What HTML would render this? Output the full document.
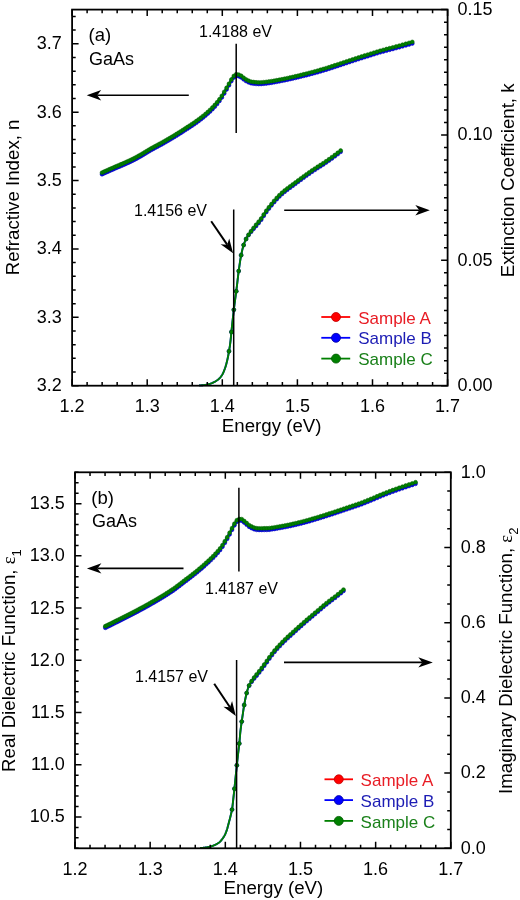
<!DOCTYPE html>
<html><head><meta charset="utf-8"><title>GaAs optical constants</title>
<style>html,body{margin:0;padding:0;background:#fff;width:520px;height:900px;overflow:hidden}svg{display:block}</style>
</head><body>
<svg width="520" height="900" viewBox="0 0 520 900">
<rect width="520" height="900" fill="#fff"/>
<g font-family="Liberation Sans, Arial, sans-serif" font-size="18" fill="#000">
<path d="M102 174.27L103.04 173.79L104.08 173.32L105.11 172.85L106.15 172.38L107.19 171.91L108.23 171.45L109.26 170.98L110.3 170.52L111.34 170.06L112.38 169.61L113.42 169.15L114.45 168.7L115.49 168.25L116.53 167.81L117.57 167.37L118.6 166.94L119.64 166.5L120.68 166.06L121.72 165.62L122.76 165.17L123.79 164.72L124.83 164.25L125.87 163.79L126.91 163.33L127.94 162.86L128.98 162.38L130.02 161.9L131.06 161.41L132.1 160.91L133.13 160.4L134.17 159.87L135.21 159.33L136.25 158.77L137.28 158.2L138.32 157.62L139.36 157.03L140.4 156.44L141.44 155.84L142.47 155.23L143.51 154.61L144.55 153.98L145.59 153.35L146.63 152.72L147.66 152.09L148.7 151.47L149.74 150.85L150.78 150.24L151.81 149.65L152.85 149.07L153.89 148.5L154.93 147.94L155.97 147.38L157 146.83L158.04 146.27L159.08 145.72L160.12 145.16L161.15 144.6L162.19 144.03L163.23 143.45L164.27 142.86L165.31 142.27L166.34 141.68L167.38 141.08L168.42 140.47L169.46 139.87L170.49 139.25L171.53 138.64L172.57 138.02L173.61 137.39L174.65 136.77L175.68 136.13L176.72 135.49L177.76 134.85L178.8 134.2L179.83 133.55L180.87 132.89L181.91 132.23L182.95 131.56L183.99 130.89L185.02 130.22L186.06 129.54L187.1 128.87L188.14 128.19L189.17 127.52L190.21 126.84L191.25 126.16L192.29 125.48L193.33 124.78L194.36 124.07L195.4 123.35L196.44 122.62L197.48 121.86L198.51 121.09L199.55 120.31L200.59 119.52L201.63 118.72L202.67 117.91L203.7 117.08L204.74 116.23L205.78 115.36L206.82 114.46L207.85 113.54L208.89 112.59L209.93 111.61L210.97 110.6L212.01 109.56L213.04 108.49L214.08 107.38L215.12 106.23L216.16 105.04L217.19 103.8L218.23 102.51L219.27 101.17L220.31 99.76L221.35 98.2L222.38 96.5L223.42 94.75L224.46 93.02L225.5 91.28L226.54 89.51L227.57 87.74L228.61 85.96L229.65 84.16L230.69 82.29L231.72 80.51L232.76 78.8L233.8 77.56L234.84 76.56L235.88 75.89L236.91 75.82L237.95 76.01L238.99 76.33L240.03 76.71L241.06 77.35L242.1 78.18L243.14 79L244.18 79.73L245.22 80.47L246.25 81.16L247.29 81.74L248.33 82.22L249.37 82.66L250.4 83.04L251.44 83.32L252.48 83.49L253.52 83.63L254.56 83.76L255.59 83.87L256.63 83.95L257.67 84.01L258.71 84.03L259.74 84.02L260.78 83.98L261.82 83.92L262.86 83.83L263.9 83.73L264.93 83.63L265.97 83.52L267.01 83.41L268.05 83.28L269.08 83.13L270.12 82.97L271.16 82.8L272.2 82.63L273.24 82.46L274.27 82.28L275.31 82.1L276.35 81.91L277.39 81.72L278.42 81.53L279.46 81.33L280.5 81.13L281.54 80.93L282.58 80.72L283.61 80.51L284.65 80.3L285.69 80.09L286.73 79.87L287.76 79.65L288.8 79.42L289.84 79.2L290.88 78.97L291.92 78.73L292.95 78.5L293.99 78.26L295.03 78.02L296.07 77.77L297.11 77.52L298.14 77.26L299.18 77.01L300.22 76.75L301.26 76.49L302.29 76.23L303.33 75.96L304.37 75.7L305.41 75.44L306.45 75.17L307.48 74.91L308.52 74.64L309.56 74.37L310.6 74.1L311.63 73.83L312.67 73.56L313.71 73.28L314.75 73L315.79 72.71L316.82 72.43L317.86 72.14L318.9 71.85L319.94 71.55L320.97 71.25L322.01 70.95L323.05 70.65L324.09 70.34L325.13 70.03L326.16 69.71L327.2 69.4L328.24 69.07L329.28 68.75L330.31 68.41L331.35 68.07L332.39 67.73L333.43 67.38L334.47 67.03L335.5 66.68L336.54 66.33L337.58 65.98L338.62 65.62L339.65 65.27L340.69 64.92L341.73 64.57L342.77 64.23L343.81 63.89L344.84 63.55L345.88 63.21L346.92 62.87L347.96 62.53L348.99 62.19L350.03 61.85L351.07 61.51L352.11 61.18L353.15 60.84L354.18 60.51L355.22 60.17L356.26 59.84L357.3 59.5L358.33 59.17L359.37 58.84L360.41 58.51L361.45 58.18L362.49 57.85L363.52 57.52L364.56 57.18L365.6 56.85L366.64 56.52L367.67 56.19L368.71 55.86L369.75 55.53L370.79 55.2L371.83 54.88L372.86 54.55L373.9 54.23L374.94 53.91L375.98 53.59L377.02 53.28L378.05 52.97L379.09 52.67L380.13 52.37L381.17 52.07L382.2 51.78L383.24 51.5L384.28 51.22L385.32 50.94L386.36 50.66L387.39 50.39L388.43 50.11L389.47 49.84L390.51 49.57L391.54 49.3L392.58 49.03L393.62 48.75L394.66 48.48L395.7 48.2L396.73 47.92L397.77 47.64L398.81 47.35L399.85 47.06L400.88 46.77L401.92 46.48L402.96 46.19L404 45.9L405.04 45.6L406.07 45.31L407.11 45.01L408.15 44.71L409.19 44.42L410.22 44.12L411.26 43.82L412.3 43.52" stroke="#0000ff" stroke-width="1.9" fill="none" stroke-linejoin="round"/>
<g fill="#0000ff" stroke="#0000a0" stroke-width="0.5">
<circle cx="102.02" cy="174.26" r="1.95"/>
<circle cx="103.89" cy="173.41" r="1.95"/>
<circle cx="105.76" cy="172.56" r="1.95"/>
<circle cx="107.64" cy="171.71" r="1.95"/>
<circle cx="109.53" cy="170.87" r="1.95"/>
<circle cx="111.43" cy="170.02" r="1.95"/>
<circle cx="113.33" cy="169.19" r="1.95"/>
<circle cx="115.24" cy="168.36" r="1.95"/>
<circle cx="117.16" cy="167.54" r="1.95"/>
<circle cx="119.09" cy="166.73" r="1.95"/>
<circle cx="121.02" cy="165.92" r="1.95"/>
<circle cx="122.97" cy="165.08" r="1.95"/>
<circle cx="124.92" cy="164.22" r="1.95"/>
<circle cx="126.88" cy="163.34" r="1.95"/>
<circle cx="128.84" cy="162.45" r="1.95"/>
<circle cx="130.82" cy="161.53" r="1.95"/>
<circle cx="132.8" cy="160.57" r="1.95"/>
<circle cx="134.79" cy="159.55" r="1.95"/>
<circle cx="136.79" cy="158.47" r="1.95"/>
<circle cx="138.8" cy="157.35" r="1.95"/>
<circle cx="140.82" cy="156.2" r="1.95"/>
<circle cx="142.84" cy="155.01" r="1.95"/>
<circle cx="144.87" cy="153.78" r="1.95"/>
<circle cx="146.92" cy="152.54" r="1.95"/>
<circle cx="148.97" cy="151.31" r="1.95"/>
<circle cx="151.03" cy="150.1" r="1.95"/>
<circle cx="153.09" cy="148.94" r="1.95"/>
<circle cx="155.17" cy="147.81" r="1.95"/>
<circle cx="157.26" cy="146.69" r="1.95"/>
<circle cx="159.35" cy="145.58" r="1.95"/>
<circle cx="161.45" cy="144.44" r="1.95"/>
<circle cx="163.57" cy="143.26" r="1.95"/>
<circle cx="165.69" cy="142.05" r="1.95"/>
<circle cx="167.82" cy="140.82" r="1.95"/>
<circle cx="169.96" cy="139.57" r="1.95"/>
<circle cx="172.1" cy="138.3" r="1.95"/>
<circle cx="174.26" cy="137" r="1.95"/>
<circle cx="176.43" cy="135.67" r="1.95"/>
<circle cx="178.61" cy="134.32" r="1.95"/>
<circle cx="180.79" cy="132.94" r="1.95"/>
<circle cx="182.99" cy="131.53" r="1.95"/>
<circle cx="185.19" cy="130.11" r="1.95"/>
<circle cx="187.41" cy="128.67" r="1.95"/>
<circle cx="189.63" cy="127.22" r="1.95"/>
<circle cx="191.86" cy="125.76" r="1.95"/>
<circle cx="194.11" cy="124.25" r="1.95"/>
<circle cx="196.36" cy="122.67" r="1.95"/>
<circle cx="198.63" cy="121.01" r="1.95"/>
<circle cx="200.9" cy="119.29" r="1.95"/>
<circle cx="203.18" cy="117.5" r="1.95"/>
<circle cx="205.48" cy="115.61" r="1.95"/>
<circle cx="207.78" cy="113.61" r="1.95"/>
<circle cx="210.1" cy="111.45" r="1.95"/>
<circle cx="212.42" cy="109.14" r="1.95"/>
<circle cx="214.76" cy="106.64" r="1.95"/>
<circle cx="217.1" cy="103.91" r="1.95"/>
<circle cx="219.46" cy="100.92" r="1.95"/>
<circle cx="221.83" cy="97.43" r="1.95"/>
<circle cx="224.2" cy="93.44" r="1.95"/>
<circle cx="226.59" cy="89.42" r="1.95"/>
<circle cx="228.99" cy="85.3" r="1.95"/>
<circle cx="231.4" cy="81.05" r="1.95"/>
<circle cx="233.82" cy="77.54" r="1.95"/>
<circle cx="236.25" cy="75.8" r="1.95"/>
<circle cx="238.7" cy="76.23" r="1.95"/>
<circle cx="241.15" cy="77.42" r="1.95"/>
<circle cx="243.62" cy="79.34" r="1.95"/>
<circle cx="246.1" cy="81.06" r="1.95"/>
<circle cx="248.58" cy="82.33" r="1.95"/>
<circle cx="251.09" cy="83.23" r="1.95"/>
<circle cx="253.6" cy="83.65" r="1.95"/>
<circle cx="256.12" cy="83.92" r="1.95"/>
<circle cx="258.66" cy="84.03" r="1.95"/>
<circle cx="261.2" cy="83.96" r="1.95"/>
<circle cx="263.76" cy="83.75" r="1.95"/>
<circle cx="266.34" cy="83.48" r="1.95"/>
<circle cx="268.92" cy="83.16" r="1.95"/>
<circle cx="271.51" cy="82.74" r="1.95"/>
<circle cx="274.12" cy="82.31" r="1.95"/>
<circle cx="276.74" cy="81.84" r="1.95"/>
<circle cx="279.38" cy="81.35" r="1.95"/>
<circle cx="282.02" cy="80.83" r="1.95"/>
<circle cx="284.68" cy="80.3" r="1.95"/>
<circle cx="287.35" cy="79.74" r="1.95"/>
<circle cx="290.03" cy="79.15" r="1.95"/>
<circle cx="292.73" cy="78.55" r="1.95"/>
<circle cx="295.44" cy="77.92" r="1.95"/>
<circle cx="298.16" cy="77.26" r="1.95"/>
<circle cx="300.9" cy="76.58" r="1.95"/>
<circle cx="303.65" cy="75.88" r="1.95"/>
<circle cx="306.41" cy="75.18" r="1.95"/>
<circle cx="309.19" cy="74.47" r="1.95"/>
<circle cx="311.98" cy="73.74" r="1.95"/>
<circle cx="314.78" cy="72.99" r="1.95"/>
<circle cx="317.6" cy="72.21" r="1.95"/>
<circle cx="320.43" cy="71.41" r="1.95"/>
<circle cx="323.28" cy="70.58" r="1.95"/>
<circle cx="326.14" cy="69.72" r="1.95"/>
<circle cx="329.01" cy="68.83" r="1.95"/>
<circle cx="331.9" cy="67.89" r="1.95"/>
<circle cx="334.8" cy="66.92" r="1.95"/>
<circle cx="337.72" cy="65.93" r="1.95"/>
<circle cx="340.65" cy="64.94" r="1.95"/>
<circle cx="343.6" cy="63.96" r="1.95"/>
<circle cx="346.56" cy="62.99" r="1.95"/>
<circle cx="349.53" cy="62.02" r="1.95"/>
<circle cx="352.52" cy="61.04" r="1.95"/>
<circle cx="355.53" cy="60.07" r="1.95"/>
<circle cx="358.55" cy="59.1" r="1.95"/>
<circle cx="361.59" cy="58.13" r="1.95"/>
<circle cx="364.64" cy="57.16" r="1.95"/>
<circle cx="367.71" cy="56.18" r="1.95"/>
<circle cx="370.8" cy="55.2" r="1.95"/>
<circle cx="373.9" cy="54.23" r="1.95"/>
<circle cx="377.01" cy="53.28" r="1.95"/>
<circle cx="380.15" cy="52.36" r="1.95"/>
<circle cx="383.3" cy="51.48" r="1.95"/>
<circle cx="386.46" cy="50.63" r="1.95"/>
<circle cx="389.64" cy="49.79" r="1.95"/>
<circle cx="392.84" cy="48.96" r="1.95"/>
<circle cx="396.06" cy="48.1" r="1.95"/>
<circle cx="399.29" cy="47.22" r="1.95"/>
<circle cx="402.54" cy="46.31" r="1.95"/>
<circle cx="405.81" cy="45.38" r="1.95"/>
<circle cx="409.09" cy="44.44" r="1.95"/>
<circle cx="412.3" cy="43.52" r="1.95"/>
</g>
<path d="M199 385.4L199.35 385.4L199.71 385.39L200.06 385.38L200.42 385.37L200.77 385.35L201.13 385.33L201.48 385.31L201.84 385.28L202.19 385.26L202.55 385.23L202.9 385.2L203.26 385.17L203.61 385.13L203.97 385.1L204.32 385.07L204.68 385.03L205.03 384.98L205.39 384.93L205.74 384.87L206.1 384.81L206.45 384.74L206.81 384.67L207.16 384.6L207.52 384.52L207.87 384.45L208.23 384.36L208.58 384.28L208.94 384.19L209.29 384.09L209.65 383.98L210 383.86L210.36 383.73L210.71 383.6L211.07 383.47L211.42 383.33L211.78 383.19L212.13 383.04L212.49 382.89L212.84 382.73L213.2 382.57L213.55 382.4L213.91 382.22L214.26 382.03L214.62 381.84L214.97 381.65L215.32 381.44L215.68 381.23L216.03 381.02L216.39 380.79L216.74 380.56L217.1 380.31L217.45 380.06L217.81 379.79L218.16 379.51L218.52 379.21L218.87 378.9L219.23 378.57L219.58 378.22L219.94 377.84L220.29 377.44L220.65 377.01L221 376.55L221.36 376.06L221.71 375.53L222.07 374.98L222.42 374.39L222.78 373.73L223.13 373L223.49 372.2L223.84 371.35L224.2 370.46L224.55 369.53L224.91 368.55L225.26 367.51L225.62 366.39L225.97 365.2L226.33 363.94L226.68 362.61L227.04 361.15L227.39 359.59L227.75 357.94L228.1 356.2L228.46 354.33L228.81 352.33L229.17 350.21L229.52 348.05L229.88 345.8L230.23 343.31L230.58 340.39L230.94 336.82L231.29 333.06L231.65 329.57L232 326.18L232.36 322.84L232.71 319.55L233.07 316.34L233.42 313.2L233.78 310.18L234.13 307.27L234.49 304.49L234.84 301.79L235.2 299.15L235.55 296.52L235.91 293.89L236.26 291.21L236.62 288.45L236.97 285.57L237.33 282.55L237.68 279.46L238.04 276.4L238.39 273.43L238.75 270.63L239.1 268.04L239.46 265.52L239.81 263.08L240.17 260.75L240.52 258.57L240.88 256.56L241.23 254.75L241.59 253.05L241.94 251.43L242.3 249.9L242.65 248.46L243.01 247.12L243.36 245.88L243.72 244.75L244.07 243.72L244.43 242.77L244.78 241.88L245.14 241.06L245.49 240.29L245.85 239.56L246.2 238.87L246.55 238.21L246.91 237.58L247.26 237L247.62 236.44L247.97 235.91L248.33 235.4L248.68 234.91L249.04 234.42L249.39 233.94L249.75 233.47L250.1 233.02L250.46 232.57L250.81 232.13L251.17 231.7L251.52 231.28L251.88 230.86L252.23 230.44L252.59 230.03L252.94 229.62L253.3 229.2L253.65 228.79L254.01 228.39L254.36 227.99L254.72 227.59L255.07 227.19L255.43 226.78L255.78 226.38L256.14 225.97L256.49 225.56L256.85 225.14L257.2 224.72L257.56 224.3L257.91 223.87L258.27 223.45L258.62 223.03L258.98 222.6L259.33 222.17L259.69 221.73L260.04 221.29L260.4 220.83L260.75 220.37L261.11 219.88L261.46 219.38L261.82 218.87L262.17 218.34L262.52 217.8L262.88 217.25L263.23 216.7L263.59 216.14L263.94 215.58L264.3 215.03L264.65 214.48L265.01 213.94L265.36 213.41L265.72 212.89L266.07 212.38L266.43 211.9L266.78 211.42L267.14 210.95L267.49 210.48L267.85 210.01L268.2 209.55L268.56 209.08L268.91 208.62L269.27 208.16L269.62 207.71L269.98 207.25L270.33 206.8L270.69 206.35L271.04 205.91L271.4 205.46L271.75 205.02L272.11 204.59L272.46 204.15L272.82 203.72L273.17 203.3L273.53 202.87L273.88 202.45L274.24 202.04L274.59 201.62L274.95 201.22L275.3 200.81L275.66 200.41L276.01 200.01L276.37 199.62L276.72 199.23L277.08 198.85L277.43 198.47L277.78 198.1L278.14 197.73L278.49 197.37L278.85 197.01L279.2 196.65L279.56 196.3L279.91 195.96L280.27 195.62L280.62 195.29L280.98 194.96L281.33 194.64L281.69 194.32L282.04 194L282.4 193.69L282.75 193.39L283.11 193.08L283.46 192.78L283.82 192.49L284.17 192.2L284.53 191.91L284.88 191.62L285.24 191.34L285.59 191.06L285.95 190.78L286.3 190.5L286.66 190.23L287.01 189.96L287.37 189.69L287.72 189.42L288.08 189.16L288.43 188.89L288.79 188.63L289.14 188.37L289.5 188.11L289.85 187.85L290.21 187.59L290.56 187.33L290.92 187.08L291.27 186.82L291.63 186.56L291.98 186.3L292.34 186.05L292.69 185.79L293.05 185.53L293.4 185.27L293.75 185.01L294.11 184.75L294.46 184.49L294.82 184.23L295.17 183.97L295.53 183.7L295.88 183.44L296.24 183.17L296.59 182.9L296.95 182.64L297.3 182.37L297.66 182.1L298.01 181.84L298.37 181.57L298.72 181.31L299.08 181.04L299.43 180.78L299.79 180.52L300.14 180.25L300.5 179.99L300.85 179.72L301.21 179.46L301.56 179.2L301.92 178.94L302.27 178.68L302.63 178.42L302.98 178.16L303.34 177.9L303.69 177.64L304.05 177.38L304.4 177.12L304.76 176.86L305.11 176.61L305.47 176.35L305.82 176.09L306.18 175.84L306.53 175.58L306.89 175.33L307.24 175.08L307.6 174.82L307.95 174.57L308.31 174.32L308.66 174.07L309.02 173.82L309.37 173.57L309.72 173.32L310.08 173.08L310.43 172.83L310.79 172.58L311.14 172.34L311.5 172.09L311.85 171.85L312.21 171.61L312.56 171.37L312.92 171.14L313.27 170.9L313.63 170.67L313.98 170.43L314.34 170.2L314.69 169.97L315.05 169.74L315.4 169.51L315.76 169.28L316.11 169.05L316.47 168.83L316.82 168.6L317.18 168.37L317.53 168.15L317.89 167.92L318.24 167.7L318.6 167.47L318.95 167.25L319.31 167.02L319.66 166.79L320.02 166.57L320.37 166.34L320.73 166.12L321.08 165.89L321.44 165.66L321.79 165.43L322.15 165.2L322.5 164.97L322.86 164.74L323.21 164.51L323.57 164.28L323.92 164.04L324.28 163.81L324.63 163.57L324.98 163.33L325.34 163.1L325.69 162.85L326.05 162.61L326.4 162.37L326.76 162.12L327.11 161.87L327.47 161.62L327.82 161.38L328.18 161.13L328.53 160.88L328.89 160.62L329.24 160.37L329.6 160.12L329.95 159.87L330.31 159.61L330.66 159.36L331.02 159.1L331.37 158.84L331.73 158.58L332.08 158.33L332.44 158.07L332.79 157.81L333.15 157.55L333.5 157.28L333.86 157.02L334.21 156.76L334.57 156.49L334.92 156.23L335.28 155.96L335.63 155.7L335.99 155.43L336.34 155.16L336.7 154.9L337.05 154.63L337.41 154.36L337.76 154.09L338.12 153.82L338.47 153.54L338.83 153.27L339.18 153L339.54 152.73L339.89 152.45L340.25 152.18L340.6 151.9" stroke="#0000ff" stroke-width="1.9" fill="none" stroke-linejoin="round"/>
<g fill="#0000ff" stroke="#0000a0" stroke-width="0.5">
<circle cx="228.99" cy="351.26" r="1.95"/>
<circle cx="231.4" cy="331.97" r="1.95"/>
<circle cx="233.82" cy="309.81" r="1.95"/>
<circle cx="236.25" cy="291.28" r="1.95"/>
<circle cx="238.7" cy="271.01" r="1.95"/>
<circle cx="241.15" cy="255.14" r="1.95"/>
<circle cx="243.62" cy="245.05" r="1.95"/>
<circle cx="246.1" cy="239.07" r="1.95"/>
<circle cx="248.58" cy="235.05" r="1.95"/>
<circle cx="251.09" cy="231.8" r="1.95"/>
<circle cx="253.6" cy="228.86" r="1.95"/>
<circle cx="256.12" cy="225.99" r="1.95"/>
<circle cx="258.66" cy="222.98" r="1.95"/>
<circle cx="261.2" cy="219.75" r="1.95"/>
<circle cx="263.76" cy="215.87" r="1.95"/>
<circle cx="266.34" cy="212.02" r="1.95"/>
<circle cx="268.92" cy="208.61" r="1.95"/>
<circle cx="271.51" cy="205.32" r="1.95"/>
<circle cx="274.12" cy="202.17" r="1.95"/>
<circle cx="276.74" cy="199.21" r="1.95"/>
<circle cx="279.38" cy="196.48" r="1.95"/>
<circle cx="282.02" cy="194.02" r="1.95"/>
<circle cx="284.68" cy="191.78" r="1.95"/>
<circle cx="287.35" cy="189.7" r="1.95"/>
<circle cx="290.03" cy="187.72" r="1.95"/>
<circle cx="292.73" cy="185.76" r="1.95"/>
<circle cx="295.44" cy="183.77" r="1.95"/>
<circle cx="298.16" cy="181.73" r="1.95"/>
<circle cx="300.9" cy="179.69" r="1.95"/>
<circle cx="303.65" cy="177.67" r="1.95"/>
<circle cx="306.41" cy="175.67" r="1.95"/>
<circle cx="309.19" cy="173.7" r="1.95"/>
<circle cx="311.98" cy="171.77" r="1.95"/>
<circle cx="314.78" cy="169.91" r="1.95"/>
<circle cx="317.6" cy="168.1" r="1.95"/>
<circle cx="320.43" cy="166.3" r="1.95"/>
<circle cx="323.28" cy="164.47" r="1.95"/>
<circle cx="326.14" cy="162.55" r="1.95"/>
<circle cx="329.01" cy="160.54" r="1.95"/>
<circle cx="331.9" cy="158.46" r="1.95"/>
<circle cx="334.8" cy="156.32" r="1.95"/>
<circle cx="337.72" cy="154.12" r="1.95"/>
<circle cx="340.65" cy="151.86" r="1.95"/>
</g>
<path d="M102 172.67L103.04 172.19L104.08 171.72L105.11 171.25L106.15 170.78L107.19 170.31L108.23 169.85L109.26 169.38L110.3 168.92L111.34 168.46L112.38 168.01L113.42 167.55L114.45 167.1L115.49 166.65L116.53 166.21L117.57 165.77L118.6 165.34L119.64 164.9L120.68 164.46L121.72 164.02L122.76 163.57L123.79 163.12L124.83 162.65L125.87 162.19L126.91 161.73L127.94 161.26L128.98 160.78L130.02 160.3L131.06 159.81L132.1 159.31L133.13 158.8L134.17 158.27L135.21 157.73L136.25 157.17L137.28 156.6L138.32 156.02L139.36 155.43L140.4 154.84L141.44 154.24L142.47 153.63L143.51 153.01L144.55 152.38L145.59 151.75L146.63 151.12L147.66 150.49L148.7 149.87L149.74 149.25L150.78 148.64L151.81 148.05L152.85 147.47L153.89 146.9L154.93 146.34L155.97 145.78L157 145.23L158.04 144.67L159.08 144.12L160.12 143.56L161.15 143L162.19 142.43L163.23 141.85L164.27 141.26L165.31 140.67L166.34 140.08L167.38 139.48L168.42 138.87L169.46 138.27L170.49 137.65L171.53 137.04L172.57 136.42L173.61 135.79L174.65 135.17L175.68 134.53L176.72 133.89L177.76 133.25L178.8 132.6L179.83 131.95L180.87 131.29L181.91 130.63L182.95 129.96L183.99 129.29L185.02 128.62L186.06 127.94L187.1 127.27L188.14 126.59L189.17 125.92L190.21 125.24L191.25 124.56L192.29 123.88L193.33 123.18L194.36 122.47L195.4 121.75L196.44 121.02L197.48 120.26L198.51 119.49L199.55 118.71L200.59 117.92L201.63 117.12L202.67 116.31L203.7 115.48L204.74 114.63L205.78 113.76L206.82 112.86L207.85 111.94L208.89 110.99L209.93 110.01L210.97 109L212.01 107.96L213.04 106.89L214.08 105.78L215.12 104.63L216.16 103.44L217.19 102.2L218.23 100.91L219.27 99.57L220.31 98.16L221.35 96.6L222.38 94.9L223.42 93.15L224.46 91.42L225.5 89.68L226.54 87.91L227.57 86.14L228.61 84.36L229.65 82.56L230.69 80.69L231.72 78.91L232.76 77.2L233.8 75.96L234.84 74.96L235.88 74.29L236.91 74.22L237.95 74.41L238.99 74.73L240.03 75.11L241.06 75.75L242.1 76.58L243.14 77.4L244.18 78.13L245.22 78.87L246.25 79.56L247.29 80.14L248.33 80.62L249.37 81.06L250.4 81.44L251.44 81.72L252.48 81.89L253.52 82.03L254.56 82.16L255.59 82.27L256.63 82.35L257.67 82.41L258.71 82.43L259.74 82.42L260.78 82.38L261.82 82.32L262.86 82.23L263.9 82.13L264.93 82.03L265.97 81.92L267.01 81.81L268.05 81.68L269.08 81.53L270.12 81.37L271.16 81.2L272.2 81.03L273.24 80.86L274.27 80.68L275.31 80.5L276.35 80.31L277.39 80.12L278.42 79.93L279.46 79.73L280.5 79.53L281.54 79.33L282.58 79.12L283.61 78.91L284.65 78.7L285.69 78.49L286.73 78.27L287.76 78.05L288.8 77.82L289.84 77.6L290.88 77.37L291.92 77.13L292.95 76.9L293.99 76.66L295.03 76.42L296.07 76.17L297.11 75.92L298.14 75.66L299.18 75.41L300.22 75.15L301.26 74.89L302.29 74.63L303.33 74.36L304.37 74.1L305.41 73.84L306.45 73.57L307.48 73.31L308.52 73.04L309.56 72.77L310.6 72.5L311.63 72.23L312.67 71.96L313.71 71.68L314.75 71.4L315.79 71.11L316.82 70.83L317.86 70.54L318.9 70.25L319.94 69.95L320.97 69.65L322.01 69.35L323.05 69.05L324.09 68.74L325.13 68.43L326.16 68.11L327.2 67.8L328.24 67.47L329.28 67.15L330.31 66.81L331.35 66.47L332.39 66.13L333.43 65.78L334.47 65.43L335.5 65.08L336.54 64.73L337.58 64.38L338.62 64.02L339.65 63.67L340.69 63.32L341.73 62.97L342.77 62.63L343.81 62.29L344.84 61.95L345.88 61.61L346.92 61.27L347.96 60.93L348.99 60.59L350.03 60.25L351.07 59.91L352.11 59.58L353.15 59.24L354.18 58.91L355.22 58.57L356.26 58.24L357.3 57.9L358.33 57.57L359.37 57.24L360.41 56.91L361.45 56.58L362.49 56.25L363.52 55.92L364.56 55.58L365.6 55.25L366.64 54.92L367.67 54.59L368.71 54.26L369.75 53.93L370.79 53.6L371.83 53.28L372.86 52.95L373.9 52.63L374.94 52.31L375.98 51.99L377.02 51.68L378.05 51.37L379.09 51.07L380.13 50.77L381.17 50.47L382.2 50.18L383.24 49.9L384.28 49.62L385.32 49.34L386.36 49.06L387.39 48.79L388.43 48.51L389.47 48.24L390.51 47.97L391.54 47.7L392.58 47.43L393.62 47.15L394.66 46.88L395.7 46.6L396.73 46.32L397.77 46.04L398.81 45.75L399.85 45.46L400.88 45.17L401.92 44.88L402.96 44.59L404 44.3L405.04 44L406.07 43.71L407.11 43.41L408.15 43.11L409.19 42.82L410.22 42.52L411.26 42.22L412.3 41.92" stroke="#008000" stroke-width="1.9" fill="none" stroke-linejoin="round"/>
<g fill="#008000" stroke="#005a00" stroke-width="0.5">
<circle cx="102.02" cy="172.66" r="1.95"/>
<circle cx="103.89" cy="171.81" r="1.95"/>
<circle cx="105.76" cy="170.96" r="1.95"/>
<circle cx="107.64" cy="170.11" r="1.95"/>
<circle cx="109.53" cy="169.27" r="1.95"/>
<circle cx="111.43" cy="168.42" r="1.95"/>
<circle cx="113.33" cy="167.59" r="1.95"/>
<circle cx="115.24" cy="166.76" r="1.95"/>
<circle cx="117.16" cy="165.94" r="1.95"/>
<circle cx="119.09" cy="165.13" r="1.95"/>
<circle cx="121.02" cy="164.32" r="1.95"/>
<circle cx="122.97" cy="163.48" r="1.95"/>
<circle cx="124.92" cy="162.62" r="1.95"/>
<circle cx="126.88" cy="161.74" r="1.95"/>
<circle cx="128.84" cy="160.85" r="1.95"/>
<circle cx="130.82" cy="159.93" r="1.95"/>
<circle cx="132.8" cy="158.97" r="1.95"/>
<circle cx="134.79" cy="157.95" r="1.95"/>
<circle cx="136.79" cy="156.87" r="1.95"/>
<circle cx="138.8" cy="155.75" r="1.95"/>
<circle cx="140.82" cy="154.6" r="1.95"/>
<circle cx="142.84" cy="153.41" r="1.95"/>
<circle cx="144.87" cy="152.18" r="1.95"/>
<circle cx="146.92" cy="150.94" r="1.95"/>
<circle cx="148.97" cy="149.71" r="1.95"/>
<circle cx="151.03" cy="148.5" r="1.95"/>
<circle cx="153.09" cy="147.34" r="1.95"/>
<circle cx="155.17" cy="146.21" r="1.95"/>
<circle cx="157.26" cy="145.09" r="1.95"/>
<circle cx="159.35" cy="143.98" r="1.95"/>
<circle cx="161.45" cy="142.84" r="1.95"/>
<circle cx="163.57" cy="141.66" r="1.95"/>
<circle cx="165.69" cy="140.45" r="1.95"/>
<circle cx="167.82" cy="139.22" r="1.95"/>
<circle cx="169.96" cy="137.97" r="1.95"/>
<circle cx="172.1" cy="136.7" r="1.95"/>
<circle cx="174.26" cy="135.4" r="1.95"/>
<circle cx="176.43" cy="134.07" r="1.95"/>
<circle cx="178.61" cy="132.72" r="1.95"/>
<circle cx="180.79" cy="131.34" r="1.95"/>
<circle cx="182.99" cy="129.93" r="1.95"/>
<circle cx="185.19" cy="128.51" r="1.95"/>
<circle cx="187.41" cy="127.07" r="1.95"/>
<circle cx="189.63" cy="125.62" r="1.95"/>
<circle cx="191.86" cy="124.16" r="1.95"/>
<circle cx="194.11" cy="122.65" r="1.95"/>
<circle cx="196.36" cy="121.07" r="1.95"/>
<circle cx="198.63" cy="119.41" r="1.95"/>
<circle cx="200.9" cy="117.69" r="1.95"/>
<circle cx="203.18" cy="115.9" r="1.95"/>
<circle cx="205.48" cy="114.01" r="1.95"/>
<circle cx="207.78" cy="112.01" r="1.95"/>
<circle cx="210.1" cy="109.85" r="1.95"/>
<circle cx="212.42" cy="107.54" r="1.95"/>
<circle cx="214.76" cy="105.04" r="1.95"/>
<circle cx="217.1" cy="102.31" r="1.95"/>
<circle cx="219.46" cy="99.32" r="1.95"/>
<circle cx="221.83" cy="95.83" r="1.95"/>
<circle cx="224.2" cy="91.84" r="1.95"/>
<circle cx="226.59" cy="87.82" r="1.95"/>
<circle cx="228.99" cy="83.7" r="1.95"/>
<circle cx="231.4" cy="79.45" r="1.95"/>
<circle cx="233.82" cy="75.94" r="1.95"/>
<circle cx="236.25" cy="74.2" r="1.95"/>
<circle cx="238.7" cy="74.63" r="1.95"/>
<circle cx="241.15" cy="75.82" r="1.95"/>
<circle cx="243.62" cy="77.74" r="1.95"/>
<circle cx="246.1" cy="79.46" r="1.95"/>
<circle cx="248.58" cy="80.73" r="1.95"/>
<circle cx="251.09" cy="81.63" r="1.95"/>
<circle cx="253.6" cy="82.05" r="1.95"/>
<circle cx="256.12" cy="82.32" r="1.95"/>
<circle cx="258.66" cy="82.43" r="1.95"/>
<circle cx="261.2" cy="82.36" r="1.95"/>
<circle cx="263.76" cy="82.15" r="1.95"/>
<circle cx="266.34" cy="81.88" r="1.95"/>
<circle cx="268.92" cy="81.56" r="1.95"/>
<circle cx="271.51" cy="81.14" r="1.95"/>
<circle cx="274.12" cy="80.71" r="1.95"/>
<circle cx="276.74" cy="80.24" r="1.95"/>
<circle cx="279.38" cy="79.75" r="1.95"/>
<circle cx="282.02" cy="79.23" r="1.95"/>
<circle cx="284.68" cy="78.7" r="1.95"/>
<circle cx="287.35" cy="78.14" r="1.95"/>
<circle cx="290.03" cy="77.55" r="1.95"/>
<circle cx="292.73" cy="76.95" r="1.95"/>
<circle cx="295.44" cy="76.32" r="1.95"/>
<circle cx="298.16" cy="75.66" r="1.95"/>
<circle cx="300.9" cy="74.98" r="1.95"/>
<circle cx="303.65" cy="74.28" r="1.95"/>
<circle cx="306.41" cy="73.58" r="1.95"/>
<circle cx="309.19" cy="72.87" r="1.95"/>
<circle cx="311.98" cy="72.14" r="1.95"/>
<circle cx="314.78" cy="71.39" r="1.95"/>
<circle cx="317.6" cy="70.61" r="1.95"/>
<circle cx="320.43" cy="69.81" r="1.95"/>
<circle cx="323.28" cy="68.98" r="1.95"/>
<circle cx="326.14" cy="68.12" r="1.95"/>
<circle cx="329.01" cy="67.23" r="1.95"/>
<circle cx="331.9" cy="66.29" r="1.95"/>
<circle cx="334.8" cy="65.32" r="1.95"/>
<circle cx="337.72" cy="64.33" r="1.95"/>
<circle cx="340.65" cy="63.34" r="1.95"/>
<circle cx="343.6" cy="62.36" r="1.95"/>
<circle cx="346.56" cy="61.39" r="1.95"/>
<circle cx="349.53" cy="60.42" r="1.95"/>
<circle cx="352.52" cy="59.44" r="1.95"/>
<circle cx="355.53" cy="58.47" r="1.95"/>
<circle cx="358.55" cy="57.5" r="1.95"/>
<circle cx="361.59" cy="56.53" r="1.95"/>
<circle cx="364.64" cy="55.56" r="1.95"/>
<circle cx="367.71" cy="54.58" r="1.95"/>
<circle cx="370.8" cy="53.6" r="1.95"/>
<circle cx="373.9" cy="52.63" r="1.95"/>
<circle cx="377.01" cy="51.68" r="1.95"/>
<circle cx="380.15" cy="50.76" r="1.95"/>
<circle cx="383.3" cy="49.88" r="1.95"/>
<circle cx="386.46" cy="49.03" r="1.95"/>
<circle cx="389.64" cy="48.19" r="1.95"/>
<circle cx="392.84" cy="47.36" r="1.95"/>
<circle cx="396.06" cy="46.5" r="1.95"/>
<circle cx="399.29" cy="45.62" r="1.95"/>
<circle cx="402.54" cy="44.71" r="1.95"/>
<circle cx="405.81" cy="43.78" r="1.95"/>
<circle cx="409.09" cy="42.84" r="1.95"/>
<circle cx="412.3" cy="41.92" r="1.95"/>
</g>
<path d="M199 385.4L199.35 385.4L199.71 385.39L200.06 385.38L200.42 385.37L200.77 385.35L201.13 385.33L201.48 385.31L201.84 385.28L202.19 385.26L202.55 385.23L202.9 385.2L203.26 385.17L203.61 385.13L203.97 385.1L204.32 385.07L204.68 385.03L205.03 384.98L205.39 384.93L205.74 384.87L206.1 384.81L206.45 384.74L206.81 384.67L207.16 384.6L207.52 384.52L207.87 384.45L208.23 384.36L208.58 384.28L208.94 384.19L209.29 384.09L209.65 383.98L210 383.86L210.36 383.73L210.71 383.6L211.07 383.47L211.42 383.33L211.78 383.19L212.13 383.04L212.49 382.89L212.84 382.73L213.2 382.57L213.55 382.4L213.91 382.22L214.26 382.03L214.62 381.84L214.97 381.65L215.32 381.44L215.68 381.23L216.03 381.02L216.39 380.79L216.74 380.56L217.1 380.31L217.45 380.06L217.81 379.79L218.16 379.51L218.52 379.21L218.87 378.9L219.23 378.57L219.58 378.22L219.94 377.84L220.29 377.44L220.65 377.01L221 376.55L221.36 376.06L221.71 375.53L222.07 374.98L222.42 374.39L222.78 373.73L223.13 373L223.49 372.2L223.84 371.35L224.2 370.46L224.55 369.53L224.91 368.55L225.26 367.51L225.62 366.39L225.97 365.2L226.33 363.94L226.68 362.61L227.04 361.15L227.39 359.59L227.75 357.94L228.1 356.2L228.46 354.33L228.81 352.33L229.17 350.21L229.52 348.05L229.88 345.8L230.23 343.31L230.58 340.39L230.94 336.82L231.29 333.06L231.65 329.57L232 326.18L232.36 322.84L232.71 319.55L233.07 316.34L233.42 313.2L233.78 310.18L234.13 307.27L234.49 304.49L234.84 301.79L235.2 299.15L235.55 296.52L235.91 293.89L236.26 291.21L236.62 288.45L236.97 285.57L237.33 282.55L237.68 279.46L238.04 276.4L238.39 273.43L238.75 270.63L239.1 268.04L239.46 265.52L239.81 263.08L240.17 260.75L240.52 258.57L240.88 256.56L241.23 254.75L241.59 253.05L241.94 251.43L242.3 249.9L242.65 248.46L243.01 247.12L243.36 245.88L243.72 244.75L244.07 243.72L244.43 242.76L244.78 241.87L245.14 241.03L245.49 240.24L245.85 239.5L246.2 238.78L246.55 238.1L246.91 237.44L247.26 236.82L247.62 236.23L247.97 235.66L248.33 235.11L248.68 234.57L249.04 234.04L249.39 233.51L249.75 233L250.1 232.49L250.46 232L250.81 231.51L251.17 231.03L251.52 230.56L251.88 230.09L252.23 229.62L252.59 229.16L252.94 228.7L253.3 228.25L253.65 227.79L254.01 227.35L254.36 226.91L254.72 226.47L255.07 226.03L255.43 225.6L255.78 225.17L256.14 224.74L256.49 224.3L256.85 223.87L257.2 223.43L257.56 223L257.91 222.57L258.27 222.15L258.62 221.73L258.98 221.3L259.33 220.87L259.69 220.43L260.04 219.99L260.4 219.53L260.75 219.07L261.11 218.58L261.46 218.08L261.82 217.57L262.17 217.04L262.52 216.5L262.88 215.95L263.23 215.4L263.59 214.84L263.94 214.28L264.3 213.73L264.65 213.18L265.01 212.64L265.36 212.11L265.72 211.59L266.07 211.08L266.43 210.6L266.78 210.12L267.14 209.65L267.49 209.18L267.85 208.71L268.2 208.25L268.56 207.78L268.91 207.32L269.27 206.86L269.62 206.41L269.98 205.95L270.33 205.5L270.69 205.05L271.04 204.61L271.4 204.16L271.75 203.72L272.11 203.29L272.46 202.85L272.82 202.42L273.17 202L273.53 201.57L273.88 201.15L274.24 200.74L274.59 200.32L274.95 199.92L275.3 199.51L275.66 199.11L276.01 198.71L276.37 198.32L276.72 197.93L277.08 197.55L277.43 197.17L277.78 196.8L278.14 196.43L278.49 196.07L278.85 195.71L279.2 195.35L279.56 195L279.91 194.66L280.27 194.32L280.62 193.99L280.98 193.66L281.33 193.34L281.69 193.02L282.04 192.7L282.4 192.39L282.75 192.09L283.11 191.78L283.46 191.48L283.82 191.19L284.17 190.9L284.53 190.61L284.88 190.32L285.24 190.04L285.59 189.76L285.95 189.48L286.3 189.2L286.66 188.93L287.01 188.66L287.37 188.39L287.72 188.12L288.08 187.86L288.43 187.59L288.79 187.33L289.14 187.07L289.5 186.81L289.85 186.55L290.21 186.29L290.56 186.03L290.92 185.78L291.27 185.52L291.63 185.26L291.98 185L292.34 184.75L292.69 184.49L293.05 184.23L293.4 183.97L293.75 183.71L294.11 183.45L294.46 183.19L294.82 182.93L295.17 182.67L295.53 182.4L295.88 182.14L296.24 181.87L296.59 181.6L296.95 181.34L297.3 181.07L297.66 180.8L298.01 180.54L298.37 180.27L298.72 180.01L299.08 179.74L299.43 179.48L299.79 179.22L300.14 178.95L300.5 178.69L300.85 178.42L301.21 178.16L301.56 177.9L301.92 177.64L302.27 177.38L302.63 177.12L302.98 176.86L303.34 176.6L303.69 176.34L304.05 176.08L304.4 175.82L304.76 175.56L305.11 175.31L305.47 175.05L305.82 174.79L306.18 174.54L306.53 174.28L306.89 174.03L307.24 173.78L307.6 173.52L307.95 173.27L308.31 173.02L308.66 172.77L309.02 172.52L309.37 172.27L309.72 172.02L310.08 171.78L310.43 171.53L310.79 171.28L311.14 171.04L311.5 170.79L311.85 170.55L312.21 170.31L312.56 170.07L312.92 169.84L313.27 169.6L313.63 169.37L313.98 169.13L314.34 168.9L314.69 168.67L315.05 168.44L315.4 168.21L315.76 167.98L316.11 167.75L316.47 167.53L316.82 167.3L317.18 167.07L317.53 166.85L317.89 166.62L318.24 166.4L318.6 166.17L318.95 165.95L319.31 165.72L319.66 165.49L320.02 165.27L320.37 165.04L320.73 164.82L321.08 164.59L321.44 164.36L321.79 164.13L322.15 163.9L322.5 163.67L322.86 163.44L323.21 163.21L323.57 162.98L323.92 162.74L324.28 162.51L324.63 162.27L324.98 162.03L325.34 161.8L325.69 161.55L326.05 161.31L326.4 161.07L326.76 160.82L327.11 160.57L327.47 160.32L327.82 160.08L328.18 159.83L328.53 159.58L328.89 159.32L329.24 159.07L329.6 158.82L329.95 158.57L330.31 158.31L330.66 158.06L331.02 157.8L331.37 157.54L331.73 157.28L332.08 157.03L332.44 156.77L332.79 156.51L333.15 156.25L333.5 155.98L333.86 155.72L334.21 155.46L334.57 155.19L334.92 154.93L335.28 154.66L335.63 154.4L335.99 154.13L336.34 153.86L336.7 153.6L337.05 153.33L337.41 153.06L337.76 152.79L338.12 152.52L338.47 152.24L338.83 151.97L339.18 151.7L339.54 151.43L339.89 151.15L340.25 150.88L340.6 150.6" stroke="#008000" stroke-width="1.9" fill="none" stroke-linejoin="round"/>
<g fill="#008000" stroke="#005a00" stroke-width="0.5">
<circle cx="228.99" cy="351.26" r="1.95"/>
<circle cx="231.4" cy="331.97" r="1.95"/>
<circle cx="233.82" cy="309.81" r="1.95"/>
<circle cx="236.25" cy="291.28" r="1.95"/>
<circle cx="238.7" cy="271.01" r="1.95"/>
<circle cx="241.15" cy="255.14" r="1.95"/>
<circle cx="243.62" cy="245.05" r="1.95"/>
<circle cx="246.1" cy="238.99" r="1.95"/>
<circle cx="248.58" cy="234.72" r="1.95"/>
<circle cx="251.09" cy="231.14" r="1.95"/>
<circle cx="253.6" cy="227.86" r="1.95"/>
<circle cx="256.12" cy="224.75" r="1.95"/>
<circle cx="258.66" cy="221.68" r="1.95"/>
<circle cx="261.2" cy="218.45" r="1.95"/>
<circle cx="263.76" cy="214.57" r="1.95"/>
<circle cx="266.34" cy="210.72" r="1.95"/>
<circle cx="268.92" cy="207.31" r="1.95"/>
<circle cx="271.51" cy="204.02" r="1.95"/>
<circle cx="274.12" cy="200.87" r="1.95"/>
<circle cx="276.74" cy="197.91" r="1.95"/>
<circle cx="279.38" cy="195.18" r="1.95"/>
<circle cx="282.02" cy="192.72" r="1.95"/>
<circle cx="284.68" cy="190.48" r="1.95"/>
<circle cx="287.35" cy="188.4" r="1.95"/>
<circle cx="290.03" cy="186.42" r="1.95"/>
<circle cx="292.73" cy="184.46" r="1.95"/>
<circle cx="295.44" cy="182.47" r="1.95"/>
<circle cx="298.16" cy="180.43" r="1.95"/>
<circle cx="300.9" cy="178.39" r="1.95"/>
<circle cx="303.65" cy="176.37" r="1.95"/>
<circle cx="306.41" cy="174.37" r="1.95"/>
<circle cx="309.19" cy="172.4" r="1.95"/>
<circle cx="311.98" cy="170.47" r="1.95"/>
<circle cx="314.78" cy="168.61" r="1.95"/>
<circle cx="317.6" cy="166.8" r="1.95"/>
<circle cx="320.43" cy="165" r="1.95"/>
<circle cx="323.28" cy="163.17" r="1.95"/>
<circle cx="326.14" cy="161.25" r="1.95"/>
<circle cx="329.01" cy="159.24" r="1.95"/>
<circle cx="331.9" cy="157.16" r="1.95"/>
<circle cx="334.8" cy="155.02" r="1.95"/>
<circle cx="337.72" cy="152.82" r="1.95"/>
<circle cx="340.65" cy="150.56" r="1.95"/>
</g>
<path d="M236.2 43.8V133M233.7 209.5V385.6" stroke="#000" stroke-width="1.5"/>
<path d="M188.8 95.3L97.2 95.3" stroke="#000" stroke-width="1.6" fill="none"/>
<path d="M86.7 95.3L101.2 90.1L97.2 95.3L101.2 100.5Z" fill="#000"/>
<path d="M284.2 210.3L419.3 210.3" stroke="#000" stroke-width="1.6" fill="none"/>
<path d="M429.8 210.3L415.3 215.5L419.3 210.3L415.3 205.1Z" fill="#000"/>
<path d="M211.2 221.2L227.18 244.63" stroke="#000" stroke-width="2.0" fill="none"/>
<path d="M233.1 253.3L220.63 244.25L227.18 244.63L229.22 238.39Z" fill="#000"/>
<text x="199" y="37" style="font-size:16px">1.4188 eV</text>
<text x="134" y="215.5" style="font-size:16px">1.4156 eV</text>
<text x="88.5" y="41.2" style="font-size:18.5px">(a)</text>
<text x="89" y="65">GaAs</text>
<path d="M321.3 317H350.2" stroke="#ff0000" stroke-width="1.8"/>
<circle cx="336" cy="317" r="4.5" fill="#ff0000" stroke="#c00000" stroke-width="0.8"/>
<text x="358.2" y="323.5" fill="#e81c24" style="font-size:17px">Sample A</text>
<path d="M321.3 337.8H350.2" stroke="#0000ff" stroke-width="1.8"/>
<circle cx="336" cy="337.8" r="4.5" fill="#0000ff" stroke="#0000a0" stroke-width="0.8"/>
<text x="358.2" y="344.3" fill="#1c1cb4" style="font-size:17px">Sample B</text>
<path d="M321.3 358.6H350.2" stroke="#008000" stroke-width="1.8"/>
<circle cx="336" cy="358.6" r="4.5" fill="#008000" stroke="#005a00" stroke-width="0.8"/>
<text x="358.2" y="365.1" fill="#1a801a" style="font-size:17px">Sample C</text>
<rect x="72.1" y="9.6" width="375.5" height="376.1" fill="none" stroke="#000" stroke-width="1.8"/>
<path d="M72.1 385.7V379.2M87.12 385.7V382.1M102.14 385.7V382.1M117.16 385.7V382.1M132.18 385.7V382.1M147.2 385.7V379.2M162.22 385.7V382.1M177.24 385.7V382.1M192.26 385.7V382.1M207.28 385.7V382.1M222.3 385.7V379.2M237.32 385.7V382.1M252.34 385.7V382.1M267.36 385.7V382.1M282.38 385.7V382.1M297.4 385.7V379.2M312.42 385.7V382.1M327.44 385.7V382.1M342.46 385.7V382.1M357.48 385.7V382.1M372.5 385.7V379.2M387.52 385.7V382.1M402.54 385.7V382.1M417.56 385.7V382.1M432.58 385.7V382.1M447.6 385.7V379.2" stroke="#000" stroke-width="1.5" fill="none"/>
<path d="M72.1 9.6V16.1M87.12 9.6V13.2M102.14 9.6V13.2M117.16 9.6V13.2M132.18 9.6V13.2M147.2 9.6V16.1M162.22 9.6V13.2M177.24 9.6V13.2M192.26 9.6V13.2M207.28 9.6V13.2M222.3 9.6V16.1M237.32 9.6V13.2M252.34 9.6V13.2M267.36 9.6V13.2M282.38 9.6V13.2M297.4 9.6V16.1M312.42 9.6V13.2M327.44 9.6V13.2M342.46 9.6V13.2M357.48 9.6V13.2M372.5 9.6V16.1M387.52 9.6V13.2M402.54 9.6V13.2M417.56 9.6V13.2M432.58 9.6V13.2M447.6 9.6V16.1" stroke="#000" stroke-width="1.5" fill="none"/>
<path d="M72.1 385.7H78.6M72.1 372.02H75.7M72.1 358.35H75.7M72.1 344.67H75.7M72.1 330.99H75.7M72.1 317.32H78.6M72.1 303.64H75.7M72.1 289.97H75.7M72.1 276.29H75.7M72.1 262.61H75.7M72.1 248.94H78.6M72.1 235.26H75.7M72.1 221.58H75.7M72.1 207.91H75.7M72.1 194.23H75.7M72.1 180.55H78.6M72.1 166.88H75.7M72.1 153.2H75.7M72.1 139.53H75.7M72.1 125.85H75.7M72.1 112.17H78.6M72.1 98.5H75.7M72.1 84.82H75.7M72.1 71.14H75.7M72.1 57.47H75.7M72.1 43.79H78.6M72.1 30.11H75.7M72.1 16.44H75.7" stroke="#000" stroke-width="1.5" fill="none"/>
<path d="M447.6 385.7H441.1M447.6 373.16H444M447.6 360.63H444M447.6 348.09H444M447.6 335.55H444M447.6 323.02H444M447.6 310.48H444M447.6 297.94H444M447.6 285.41H444M447.6 272.87H444M447.6 260.33H441.1M447.6 247.8H444M447.6 235.26H444M447.6 222.72H444M447.6 210.19H444M447.6 197.65H444M447.6 185.11H444M447.6 172.58H444M447.6 160.04H444M447.6 147.5H444M447.6 134.97H441.1M447.6 122.43H444M447.6 109.89H444M447.6 97.36H444M447.6 84.82H444M447.6 72.28H444M447.6 59.75H444M447.6 47.21H444M447.6 34.67H444M447.6 22.14H444M447.6 9.6H441.1" stroke="#000" stroke-width="1.5" fill="none"/>
<text x="72.1" y="412" text-anchor="middle">1.2</text>
<text x="147.2" y="412" text-anchor="middle">1.3</text>
<text x="222.3" y="412" text-anchor="middle">1.4</text>
<text x="297.4" y="412" text-anchor="middle">1.5</text>
<text x="372.5" y="412" text-anchor="middle">1.6</text>
<text x="447.6" y="412" text-anchor="middle">1.7</text>
<text x="61.9" y="391.15" text-anchor="end">3.2</text>
<text x="61.9" y="322.77" text-anchor="end">3.3</text>
<text x="61.9" y="254.39" text-anchor="end">3.4</text>
<text x="61.9" y="186" text-anchor="end">3.5</text>
<text x="61.9" y="117.62" text-anchor="end">3.6</text>
<text x="61.9" y="49.24" text-anchor="end">3.7</text>
<text x="457.6" y="390.95">0.00</text>
<text x="457.6" y="265.58">0.05</text>
<text x="457.6" y="140.22">0.10</text>
<text x="457.6" y="14.85">0.15</text>
<text x="221.8" y="431.5" style="font-size:18.7px">Energy (eV)</text>
<text transform="translate(18.9 275.3) rotate(-90)" style="font-size:18.7px">Refractive Index, n</text>
<text transform="translate(513.6 277.3) rotate(-90)" style="font-size:18.7px">Extinction Coefficient, k</text>
<path d="M105.3 627.8L106.34 627.29L107.37 626.78L108.41 626.27L109.45 625.76L110.49 625.25L111.52 624.74L112.56 624.22L113.6 623.71L114.64 623.19L115.67 622.68L116.71 622.16L117.75 621.64L118.79 621.12L119.82 620.6L120.86 620.08L121.9 619.57L122.94 619.05L123.97 618.53L125.01 618.01L126.05 617.49L127.09 616.96L128.12 616.44L129.16 615.91L130.2 615.38L131.24 614.85L132.27 614.31L133.31 613.77L134.35 613.22L135.39 612.68L136.42 612.13L137.46 611.58L138.5 611.03L139.54 610.47L140.57 609.91L141.61 609.35L142.65 608.79L143.69 608.23L144.72 607.66L145.76 607.09L146.8 606.51L147.84 605.94L148.87 605.35L149.91 604.77L150.95 604.18L151.99 603.58L153.02 602.99L154.06 602.39L155.1 601.78L156.14 601.18L157.17 600.58L158.21 599.97L159.25 599.36L160.29 598.74L161.32 598.12L162.36 597.5L163.4 596.87L164.44 596.23L165.47 595.59L166.51 594.94L167.55 594.28L168.58 593.61L169.62 592.94L170.66 592.25L171.7 591.56L172.73 590.85L173.77 590.12L174.81 589.38L175.85 588.62L176.88 587.85L177.92 587.07L178.96 586.28L180 585.48L181.03 584.68L182.07 583.88L183.11 583.08L184.15 582.28L185.18 581.48L186.22 580.69L187.26 579.91L188.3 579.13L189.33 578.35L190.37 577.56L191.41 576.78L192.45 575.98L193.48 575.18L194.52 574.36L195.56 573.52L196.6 572.68L197.63 571.82L198.67 570.96L199.71 570.08L200.75 569.19L201.78 568.3L202.82 567.39L203.86 566.47L204.9 565.54L205.93 564.61L206.97 563.66L208.01 562.71L209.05 561.75L210.08 560.78L211.12 559.79L212.16 558.78L213.2 557.75L214.23 556.68L215.27 555.58L216.31 554.45L217.35 553.28L218.38 552.08L219.42 550.81L220.46 549.49L221.5 548.09L222.53 546.59L223.57 544.97L224.61 543.27L225.65 541.52L226.68 539.74L227.72 537.89L228.76 535.98L229.79 534.05L230.83 532.07L231.87 530.03L232.91 528.07L233.94 526.16L234.98 524.4L236.02 522.97L237.06 521.59L238.09 520.68L239.13 520.56L240.17 520.59L241.21 520.66L242.24 520.94L243.28 521.75L244.32 522.7L245.36 523.52L246.39 524.42L247.43 525.34L248.47 526.23L249.51 527.02L250.54 527.64L251.58 528.12L252.62 528.58L253.66 529.01L254.69 529.39L255.73 529.68L256.77 529.87L257.81 529.93L258.84 529.93L259.88 529.93L260.92 529.93L261.96 529.93L262.99 529.93L264.03 529.92L265.07 529.92L266.11 529.92L267.14 529.88L268.18 529.81L269.22 529.72L270.26 529.6L271.29 529.47L272.33 529.32L273.37 529.16L274.41 528.98L275.44 528.8L276.48 528.61L277.52 528.42L278.56 528.24L279.59 528.05L280.63 527.88L281.67 527.71L282.71 527.53L283.74 527.34L284.78 527.15L285.82 526.94L286.86 526.74L287.89 526.53L288.93 526.31L289.97 526.09L291.01 525.86L292.04 525.63L293.08 525.4L294.12 525.16L295.15 524.92L296.19 524.68L297.23 524.44L298.27 524.19L299.3 523.93L300.34 523.67L301.38 523.4L302.42 523.13L303.45 522.85L304.49 522.57L305.53 522.29L306.57 522L307.6 521.71L308.64 521.42L309.68 521.13L310.72 520.83L311.75 520.54L312.79 520.24L313.83 519.93L314.87 519.63L315.9 519.32L316.94 519L317.98 518.69L319.02 518.37L320.05 518.05L321.09 517.72L322.13 517.4L323.17 517.07L324.2 516.74L325.24 516.41L326.28 516.08L327.32 515.75L328.35 515.42L329.39 515.09L330.43 514.76L331.47 514.42L332.5 514.09L333.54 513.75L334.58 513.41L335.62 513.07L336.65 512.73L337.69 512.39L338.73 512.04L339.77 511.69L340.8 511.35L341.84 511L342.88 510.65L343.92 510.3L344.95 509.96L345.99 509.61L347.03 509.26L348.07 508.91L349.1 508.56L350.14 508.21L351.18 507.87L352.22 507.52L353.25 507.17L354.29 506.82L355.33 506.47L356.36 506.11L357.4 505.75L358.44 505.38L359.48 505.01L360.51 504.63L361.55 504.24L362.59 503.84L363.63 503.44L364.66 503.03L365.7 502.62L366.74 502.2L367.78 501.78L368.81 501.36L369.85 500.93L370.89 500.51L371.93 500.09L372.96 499.66L374 499.22L375.04 498.78L376.08 498.34L377.11 497.89L378.15 497.45L379.19 497L380.23 496.57L381.26 496.13L382.3 495.71L383.34 495.29L384.38 494.88L385.41 494.47L386.45 494.06L387.49 493.66L388.53 493.26L389.56 492.87L390.6 492.48L391.64 492.09L392.68 491.71L393.71 491.32L394.75 490.95L395.79 490.57L396.83 490.21L397.86 489.84L398.9 489.48L399.94 489.12L400.98 488.77L402.01 488.41L403.05 488.06L404.09 487.71L405.13 487.36L406.16 487L407.2 486.65L408.24 486.3L409.28 485.95L410.31 485.61L411.35 485.26L412.39 484.92L413.43 484.57L414.46 484.23L415.5 483.89" stroke="#0000ff" stroke-width="1.9" fill="none" stroke-linejoin="round"/>
<g fill="#0000ff" stroke="#0000a0" stroke-width="0.5">
<circle cx="105.3" cy="627.8" r="1.95"/>
<circle cx="106.81" cy="627.06" r="1.95"/>
<circle cx="108.69" cy="626.14" r="1.95"/>
<circle cx="110.57" cy="625.21" r="1.95"/>
<circle cx="112.46" cy="624.28" r="1.95"/>
<circle cx="114.36" cy="623.33" r="1.95"/>
<circle cx="116.26" cy="622.39" r="1.95"/>
<circle cx="118.18" cy="621.43" r="1.95"/>
<circle cx="120.1" cy="620.47" r="1.95"/>
<circle cx="122.02" cy="619.5" r="1.95"/>
<circle cx="123.96" cy="618.53" r="1.95"/>
<circle cx="125.91" cy="617.56" r="1.95"/>
<circle cx="127.86" cy="616.57" r="1.95"/>
<circle cx="129.82" cy="615.58" r="1.95"/>
<circle cx="131.79" cy="614.56" r="1.95"/>
<circle cx="133.76" cy="613.53" r="1.95"/>
<circle cx="135.75" cy="612.49" r="1.95"/>
<circle cx="137.74" cy="611.43" r="1.95"/>
<circle cx="139.74" cy="610.36" r="1.95"/>
<circle cx="141.75" cy="609.28" r="1.95"/>
<circle cx="143.77" cy="608.18" r="1.95"/>
<circle cx="145.8" cy="607.07" r="1.95"/>
<circle cx="147.83" cy="605.94" r="1.95"/>
<circle cx="149.88" cy="604.79" r="1.95"/>
<circle cx="151.93" cy="603.62" r="1.95"/>
<circle cx="153.99" cy="602.43" r="1.95"/>
<circle cx="156.06" cy="601.23" r="1.95"/>
<circle cx="158.14" cy="600.01" r="1.95"/>
<circle cx="160.22" cy="598.78" r="1.95"/>
<circle cx="162.32" cy="597.52" r="1.95"/>
<circle cx="164.42" cy="596.24" r="1.95"/>
<circle cx="166.54" cy="594.92" r="1.95"/>
<circle cx="168.66" cy="593.56" r="1.95"/>
<circle cx="170.79" cy="592.16" r="1.95"/>
<circle cx="172.93" cy="590.71" r="1.95"/>
<circle cx="175.08" cy="589.18" r="1.95"/>
<circle cx="177.24" cy="587.58" r="1.95"/>
<circle cx="179.41" cy="585.93" r="1.95"/>
<circle cx="181.59" cy="584.25" r="1.95"/>
<circle cx="183.78" cy="582.56" r="1.95"/>
<circle cx="185.98" cy="580.88" r="1.95"/>
<circle cx="188.18" cy="579.21" r="1.95"/>
<circle cx="190.4" cy="577.54" r="1.95"/>
<circle cx="192.62" cy="575.84" r="1.95"/>
<circle cx="194.86" cy="574.09" r="1.95"/>
<circle cx="197.11" cy="572.26" r="1.95"/>
<circle cx="199.36" cy="570.37" r="1.95"/>
<circle cx="201.63" cy="568.43" r="1.95"/>
<circle cx="203.9" cy="566.43" r="1.95"/>
<circle cx="206.19" cy="564.37" r="1.95"/>
<circle cx="208.48" cy="562.27" r="1.95"/>
<circle cx="210.79" cy="560.11" r="1.95"/>
<circle cx="213.11" cy="557.84" r="1.95"/>
<circle cx="215.43" cy="555.41" r="1.95"/>
<circle cx="217.77" cy="552.8" r="1.95"/>
<circle cx="220.12" cy="549.93" r="1.95"/>
<circle cx="222.48" cy="546.68" r="1.95"/>
<circle cx="224.84" cy="542.87" r="1.95"/>
<circle cx="227.22" cy="538.78" r="1.95"/>
<circle cx="229.61" cy="534.38" r="1.95"/>
<circle cx="232.02" cy="529.75" r="1.95"/>
<circle cx="234.43" cy="525.3" r="1.95"/>
<circle cx="236.85" cy="521.84" r="1.95"/>
<circle cx="239.29" cy="520.56" r="1.95"/>
<circle cx="241.73" cy="520.72" r="1.95"/>
<circle cx="244.19" cy="522.59" r="1.95"/>
<circle cx="246.66" cy="524.65" r="1.95"/>
<circle cx="249.14" cy="526.75" r="1.95"/>
<circle cx="251.63" cy="528.14" r="1.95"/>
<circle cx="254.13" cy="529.19" r="1.95"/>
<circle cx="256.64" cy="529.85" r="1.95"/>
<circle cx="259.17" cy="529.93" r="1.95"/>
<circle cx="261.71" cy="529.93" r="1.95"/>
<circle cx="264.26" cy="529.92" r="1.95"/>
<circle cx="266.82" cy="529.89" r="1.95"/>
<circle cx="269.39" cy="529.7" r="1.95"/>
<circle cx="271.98" cy="529.37" r="1.95"/>
<circle cx="274.57" cy="528.95" r="1.95"/>
<circle cx="277.18" cy="528.48" r="1.95"/>
<circle cx="279.81" cy="528.02" r="1.95"/>
<circle cx="282.44" cy="527.57" r="1.95"/>
<circle cx="285.09" cy="527.09" r="1.95"/>
<circle cx="287.75" cy="526.55" r="1.95"/>
<circle cx="290.42" cy="525.99" r="1.95"/>
<circle cx="293.11" cy="525.39" r="1.95"/>
<circle cx="295.81" cy="524.77" r="1.95"/>
<circle cx="298.52" cy="524.12" r="1.95"/>
<circle cx="301.24" cy="523.44" r="1.95"/>
<circle cx="303.98" cy="522.71" r="1.95"/>
<circle cx="306.73" cy="521.95" r="1.95"/>
<circle cx="309.5" cy="521.18" r="1.95"/>
<circle cx="312.28" cy="520.38" r="1.95"/>
<circle cx="315.07" cy="519.57" r="1.95"/>
<circle cx="317.88" cy="518.72" r="1.95"/>
<circle cx="320.7" cy="517.85" r="1.95"/>
<circle cx="323.53" cy="516.96" r="1.95"/>
<circle cx="326.38" cy="516.05" r="1.95"/>
<circle cx="329.24" cy="515.14" r="1.95"/>
<circle cx="332.11" cy="514.21" r="1.95"/>
<circle cx="335" cy="513.27" r="1.95"/>
<circle cx="337.91" cy="512.31" r="1.95"/>
<circle cx="340.83" cy="511.34" r="1.95"/>
<circle cx="343.76" cy="510.36" r="1.95"/>
<circle cx="346.71" cy="509.36" r="1.95"/>
<circle cx="349.68" cy="508.37" r="1.95"/>
<circle cx="352.65" cy="507.37" r="1.95"/>
<circle cx="355.65" cy="506.36" r="1.95"/>
<circle cx="358.66" cy="505.31" r="1.95"/>
<circle cx="361.68" cy="504.19" r="1.95"/>
<circle cx="364.72" cy="503.01" r="1.95"/>
<circle cx="367.78" cy="501.78" r="1.95"/>
<circle cx="370.85" cy="500.53" r="1.95"/>
<circle cx="373.94" cy="499.25" r="1.95"/>
<circle cx="377.04" cy="497.92" r="1.95"/>
<circle cx="380.16" cy="496.59" r="1.95"/>
<circle cx="383.29" cy="495.31" r="1.95"/>
<circle cx="386.44" cy="494.07" r="1.95"/>
<circle cx="389.61" cy="492.85" r="1.95"/>
<circle cx="392.8" cy="491.66" r="1.95"/>
<circle cx="396" cy="490.5" r="1.95"/>
<circle cx="399.22" cy="489.37" r="1.95"/>
<circle cx="402.45" cy="488.26" r="1.95"/>
<circle cx="405.7" cy="487.16" r="1.95"/>
<circle cx="408.97" cy="486.06" r="1.95"/>
<circle cx="412.26" cy="484.96" r="1.95"/>
<circle cx="415.56" cy="483.87" r="1.95"/>
</g>
<path d="M200 848.1L200.36 848.08L200.72 848.05L201.08 848.02L201.44 847.99L201.8 847.96L202.16 847.93L202.52 847.89L202.88 847.85L203.24 847.81L203.6 847.77L203.96 847.73L204.32 847.69L204.68 847.64L205.04 847.6L205.39 847.55L205.75 847.5L206.11 847.45L206.47 847.39L206.83 847.34L207.19 847.28L207.55 847.22L207.91 847.15L208.27 847.08L208.63 847.01L208.99 846.94L209.35 846.86L209.71 846.77L210.07 846.69L210.43 846.59L210.79 846.49L211.15 846.38L211.51 846.27L211.87 846.15L212.23 846.02L212.59 845.89L212.95 845.76L213.31 845.62L213.67 845.47L214.03 845.32L214.39 845.17L214.75 845.01L215.11 844.85L215.46 844.69L215.82 844.51L216.18 844.33L216.54 844.14L216.9 843.94L217.26 843.73L217.62 843.51L217.98 843.28L218.34 843.04L218.7 842.78L219.06 842.51L219.42 842.22L219.78 841.9L220.14 841.55L220.5 841.17L220.86 840.77L221.22 840.34L221.58 839.9L221.94 839.44L222.3 838.97L222.66 838.49L223.02 837.98L223.38 837.45L223.74 836.88L224.1 836.28L224.46 835.64L224.82 834.96L225.18 834.24L225.54 833.44L225.89 832.57L226.25 831.64L226.61 830.64L226.97 829.58L227.33 828.41L227.69 827.11L228.05 825.72L228.41 824.3L228.77 822.91L229.13 821.56L229.49 820.23L229.85 818.88L230.21 817.48L230.57 816.01L230.93 814.56L231.29 813.08L231.65 811.48L232.01 809.62L232.37 807.33L232.73 804.22L233.09 800.81L233.45 797.63L233.81 794.48L234.17 791.24L234.53 787.81L234.89 784.18L235.25 780.52L235.61 776.98L235.96 773.57L236.32 770.21L236.68 766.87L237.04 763.54L237.4 760.24L237.76 756.95L238.12 753.69L238.48 750.53L238.84 747.47L239.2 744.32L239.56 740.87L239.92 736.75L240.28 732.66L240.64 729.43L241 726.66L241.36 724.12L241.72 721.66L242.08 719.13L242.44 716.59L242.8 714.06L243.16 711.58L243.52 709.19L243.88 706.91L244.24 704.79L244.6 702.78L244.96 700.83L245.32 698.98L245.68 697.24L246.04 695.61L246.39 694.12L246.75 692.73L247.11 691.39L247.47 690.13L247.83 688.97L248.19 687.91L248.55 686.98L248.91 686.18L249.27 685.46L249.63 684.79L249.99 684.18L250.35 683.61L250.71 683.07L251.07 682.56L251.43 682.06L251.79 681.57L252.15 681.09L252.51 680.6L252.87 680.13L253.23 679.68L253.59 679.24L253.95 678.81L254.31 678.38L254.67 677.96L255.03 677.55L255.39 677.13L255.75 676.71L256.11 676.29L256.46 675.86L256.82 675.42L257.18 674.97L257.54 674.53L257.9 674.09L258.26 673.65L258.62 673.21L258.98 672.77L259.34 672.32L259.7 671.88L260.06 671.43L260.42 670.98L260.78 670.52L261.14 670.05L261.5 669.57L261.86 669.08L262.22 668.59L262.58 668.1L262.94 667.59L263.3 667.09L263.66 666.59L264.02 666.08L264.38 665.58L264.74 665.08L265.1 664.58L265.46 664.09L265.82 663.59L266.18 663.1L266.54 662.6L266.89 662.1L267.25 661.59L267.61 661.09L267.97 660.59L268.33 660.09L268.69 659.59L269.05 659.08L269.41 658.59L269.77 658.09L270.13 657.59L270.49 657.1L270.85 656.61L271.21 656.13L271.57 655.65L271.93 655.17L272.29 654.7L272.65 654.23L273.01 653.77L273.37 653.32L273.73 652.87L274.09 652.44L274.45 652L274.81 651.58L275.17 651.15L275.53 650.73L275.89 650.32L276.25 649.9L276.61 649.49L276.96 649.09L277.32 648.69L277.68 648.29L278.04 647.89L278.4 647.5L278.76 647.11L279.12 646.72L279.48 646.34L279.84 645.96L280.2 645.58L280.56 645.2L280.92 644.83L281.28 644.46L281.64 644.09L282 643.72L282.36 643.35L282.72 642.99L283.08 642.62L283.44 642.26L283.8 641.9L284.16 641.54L284.52 641.19L284.88 640.84L285.24 640.49L285.6 640.14L285.96 639.8L286.32 639.46L286.68 639.12L287.04 638.78L287.39 638.45L287.75 638.11L288.11 637.78L288.47 637.45L288.83 637.12L289.19 636.8L289.55 636.47L289.91 636.14L290.27 635.82L290.63 635.49L290.99 635.17L291.35 634.84L291.71 634.52L292.07 634.2L292.43 633.87L292.79 633.55L293.15 633.22L293.51 632.89L293.87 632.56L294.23 632.24L294.59 631.91L294.95 631.58L295.31 631.26L295.67 630.93L296.03 630.61L296.39 630.28L296.75 629.96L297.11 629.63L297.46 629.31L297.82 628.99L298.18 628.66L298.54 628.34L298.9 628.02L299.26 627.69L299.62 627.37L299.98 627.05L300.34 626.73L300.7 626.41L301.06 626.09L301.42 625.77L301.78 625.45L302.14 625.14L302.5 624.82L302.86 624.5L303.22 624.18L303.58 623.87L303.94 623.55L304.3 623.24L304.66 622.92L305.02 622.61L305.38 622.29L305.74 621.98L306.1 621.67L306.46 621.36L306.82 621.05L307.18 620.74L307.54 620.43L307.89 620.12L308.25 619.81L308.61 619.51L308.97 619.2L309.33 618.9L309.69 618.59L310.05 618.29L310.41 617.98L310.77 617.68L311.13 617.38L311.49 617.07L311.85 616.77L312.21 616.47L312.57 616.16L312.93 615.86L313.29 615.56L313.65 615.26L314.01 614.95L314.37 614.65L314.73 614.35L315.09 614.04L315.45 613.74L315.81 613.43L316.17 613.13L316.53 612.82L316.89 612.52L317.25 612.21L317.61 611.9L317.96 611.59L318.32 611.28L318.68 610.97L319.04 610.66L319.4 610.35L319.76 610.04L320.12 609.73L320.48 609.42L320.84 609.11L321.2 608.8L321.56 608.5L321.92 608.19L322.28 607.88L322.64 607.57L323 607.27L323.36 606.96L323.72 606.66L324.08 606.36L324.44 606.06L324.8 605.76L325.16 605.46L325.52 605.16L325.88 604.87L326.24 604.57L326.6 604.28L326.96 603.99L327.32 603.71L327.68 603.43L328.04 603.15L328.39 602.87L328.75 602.59L329.11 602.31L329.47 602.04L329.83 601.77L330.19 601.5L330.55 601.23L330.91 600.96L331.27 600.69L331.63 600.42L331.99 600.16L332.35 599.89L332.71 599.62L333.07 599.35L333.43 599.08L333.79 598.81L334.15 598.54L334.51 598.27L334.87 598L335.23 597.72L335.59 597.45L335.95 597.17L336.31 596.89L336.67 596.6L337.03 596.32L337.39 596.03L337.75 595.74L338.11 595.45L338.46 595.16L338.82 594.86L339.18 594.56L339.54 594.26L339.9 593.97L340.26 593.66L340.62 593.36L340.98 593.06L341.34 592.75L341.7 592.45L342.06 592.14L342.42 591.83L342.78 591.52L343.14 591.21L343.5 590.9" stroke="#0000ff" stroke-width="1.9" fill="none" stroke-linejoin="round"/>
<g fill="#0000ff" stroke="#0000a0" stroke-width="0.5">
<circle cx="232.02" cy="809.58" r="1.95"/>
<circle cx="234.43" cy="788.77" r="1.95"/>
<circle cx="236.85" cy="765.32" r="1.95"/>
<circle cx="239.29" cy="743.55" r="1.95"/>
<circle cx="241.73" cy="721.58" r="1.95"/>
<circle cx="244.19" cy="705.07" r="1.95"/>
<circle cx="246.66" cy="693.11" r="1.95"/>
<circle cx="249.14" cy="685.73" r="1.95"/>
<circle cx="251.63" cy="681.79" r="1.95"/>
<circle cx="254.13" cy="678.59" r="1.95"/>
<circle cx="256.64" cy="675.64" r="1.95"/>
<circle cx="259.17" cy="672.54" r="1.95"/>
<circle cx="261.71" cy="669.29" r="1.95"/>
<circle cx="264.26" cy="665.75" r="1.95"/>
<circle cx="266.82" cy="662.2" r="1.95"/>
<circle cx="269.39" cy="658.62" r="1.95"/>
<circle cx="271.98" cy="655.11" r="1.95"/>
<circle cx="274.57" cy="651.85" r="1.95"/>
<circle cx="277.18" cy="648.84" r="1.95"/>
<circle cx="279.81" cy="646" r="1.95"/>
<circle cx="282.44" cy="643.27" r="1.95"/>
<circle cx="285.09" cy="640.63" r="1.95"/>
<circle cx="287.75" cy="638.12" r="1.95"/>
<circle cx="290.42" cy="635.68" r="1.95"/>
<circle cx="293.11" cy="633.26" r="1.95"/>
<circle cx="295.81" cy="630.81" r="1.95"/>
<circle cx="298.52" cy="628.36" r="1.95"/>
<circle cx="301.24" cy="625.93" r="1.95"/>
<circle cx="303.98" cy="623.51" r="1.95"/>
<circle cx="306.73" cy="621.12" r="1.95"/>
<circle cx="309.5" cy="618.76" r="1.95"/>
<circle cx="312.28" cy="616.41" r="1.95"/>
<circle cx="315.07" cy="614.06" r="1.95"/>
<circle cx="317.88" cy="611.67" r="1.95"/>
<circle cx="320.7" cy="609.24" r="1.95"/>
<circle cx="323.53" cy="606.82" r="1.95"/>
<circle cx="326.38" cy="604.46" r="1.95"/>
<circle cx="329.24" cy="602.22" r="1.95"/>
<circle cx="332.11" cy="600.06" r="1.95"/>
<circle cx="335" cy="597.89" r="1.95"/>
<circle cx="337.91" cy="595.61" r="1.95"/>
<circle cx="340.83" cy="593.19" r="1.95"/>
<circle cx="343.5" cy="590.9" r="1.95"/>
</g>
<path d="M105.3 626.2L106.34 625.69L107.37 625.18L108.41 624.67L109.45 624.16L110.49 623.65L111.52 623.14L112.56 622.62L113.6 622.11L114.64 621.59L115.67 621.08L116.71 620.56L117.75 620.04L118.79 619.52L119.82 619L120.86 618.48L121.9 617.97L122.94 617.45L123.97 616.93L125.01 616.41L126.05 615.89L127.09 615.36L128.12 614.84L129.16 614.31L130.2 613.78L131.24 613.25L132.27 612.71L133.31 612.17L134.35 611.62L135.39 611.08L136.42 610.53L137.46 609.98L138.5 609.43L139.54 608.87L140.57 608.31L141.61 607.75L142.65 607.19L143.69 606.63L144.72 606.06L145.76 605.49L146.8 604.91L147.84 604.34L148.87 603.75L149.91 603.17L150.95 602.58L151.99 601.98L153.02 601.39L154.06 600.79L155.1 600.18L156.14 599.58L157.17 598.98L158.21 598.37L159.25 597.76L160.29 597.14L161.32 596.52L162.36 595.9L163.4 595.27L164.44 594.63L165.47 593.99L166.51 593.34L167.55 592.68L168.58 592.01L169.62 591.34L170.66 590.65L171.7 589.96L172.73 589.25L173.77 588.52L174.81 587.78L175.85 587.02L176.88 586.25L177.92 585.47L178.96 584.68L180 583.88L181.03 583.08L182.07 582.28L183.11 581.48L184.15 580.68L185.18 579.88L186.22 579.09L187.26 578.31L188.3 577.53L189.33 576.75L190.37 575.96L191.41 575.18L192.45 574.38L193.48 573.58L194.52 572.76L195.56 571.92L196.6 571.08L197.63 570.22L198.67 569.36L199.71 568.48L200.75 567.59L201.78 566.7L202.82 565.79L203.86 564.87L204.9 563.94L205.93 563.01L206.97 562.06L208.01 561.11L209.05 560.15L210.08 559.18L211.12 558.19L212.16 557.18L213.2 556.15L214.23 555.08L215.27 553.98L216.31 552.85L217.35 551.68L218.38 550.48L219.42 549.21L220.46 547.89L221.5 546.49L222.53 544.99L223.57 543.37L224.61 541.67L225.65 539.92L226.68 538.14L227.72 536.29L228.76 534.38L229.79 532.45L230.83 530.47L231.87 528.43L232.91 526.47L233.94 524.56L234.98 522.8L236.02 521.37L237.06 519.99L238.09 519.08L239.13 518.96L240.17 518.99L241.21 519.06L242.24 519.34L243.28 520.15L244.32 521.1L245.36 521.92L246.39 522.82L247.43 523.74L248.47 524.63L249.51 525.42L250.54 526.04L251.58 526.52L252.62 526.98L253.66 527.41L254.69 527.79L255.73 528.08L256.77 528.27L257.81 528.33L258.84 528.33L259.88 528.33L260.92 528.33L261.96 528.33L262.99 528.33L264.03 528.32L265.07 528.32L266.11 528.32L267.14 528.28L268.18 528.21L269.22 528.12L270.26 528L271.29 527.87L272.33 527.72L273.37 527.56L274.41 527.38L275.44 527.2L276.48 527.01L277.52 526.82L278.56 526.64L279.59 526.45L280.63 526.28L281.67 526.11L282.71 525.93L283.74 525.74L284.78 525.55L285.82 525.34L286.86 525.14L287.89 524.93L288.93 524.71L289.97 524.49L291.01 524.26L292.04 524.03L293.08 523.8L294.12 523.56L295.15 523.32L296.19 523.08L297.23 522.84L298.27 522.59L299.3 522.33L300.34 522.07L301.38 521.8L302.42 521.53L303.45 521.25L304.49 520.97L305.53 520.69L306.57 520.4L307.6 520.11L308.64 519.82L309.68 519.53L310.72 519.23L311.75 518.94L312.79 518.64L313.83 518.33L314.87 518.03L315.9 517.72L316.94 517.4L317.98 517.09L319.02 516.77L320.05 516.45L321.09 516.12L322.13 515.8L323.17 515.47L324.2 515.14L325.24 514.81L326.28 514.48L327.32 514.15L328.35 513.82L329.39 513.49L330.43 513.16L331.47 512.82L332.5 512.49L333.54 512.15L334.58 511.81L335.62 511.47L336.65 511.13L337.69 510.79L338.73 510.44L339.77 510.09L340.8 509.75L341.84 509.4L342.88 509.05L343.92 508.7L344.95 508.36L345.99 508.01L347.03 507.66L348.07 507.31L349.1 506.96L350.14 506.61L351.18 506.27L352.22 505.92L353.25 505.57L354.29 505.22L355.33 504.87L356.36 504.51L357.4 504.15L358.44 503.78L359.48 503.41L360.51 503.03L361.55 502.64L362.59 502.24L363.63 501.84L364.66 501.43L365.7 501.02L366.74 500.6L367.78 500.18L368.81 499.76L369.85 499.33L370.89 498.91L371.93 498.49L372.96 498.06L374 497.62L375.04 497.18L376.08 496.74L377.11 496.29L378.15 495.85L379.19 495.4L380.23 494.97L381.26 494.53L382.3 494.11L383.34 493.69L384.38 493.28L385.41 492.87L386.45 492.46L387.49 492.06L388.53 491.66L389.56 491.27L390.6 490.88L391.64 490.49L392.68 490.11L393.71 489.72L394.75 489.35L395.79 488.97L396.83 488.61L397.86 488.24L398.9 487.88L399.94 487.52L400.98 487.17L402.01 486.81L403.05 486.46L404.09 486.11L405.13 485.76L406.16 485.4L407.2 485.05L408.24 484.7L409.28 484.35L410.31 484.01L411.35 483.66L412.39 483.32L413.43 482.97L414.46 482.63L415.5 482.29" stroke="#008000" stroke-width="1.9" fill="none" stroke-linejoin="round"/>
<g fill="#008000" stroke="#005a00" stroke-width="0.5">
<circle cx="105.3" cy="626.2" r="1.95"/>
<circle cx="106.81" cy="625.46" r="1.95"/>
<circle cx="108.69" cy="624.54" r="1.95"/>
<circle cx="110.57" cy="623.61" r="1.95"/>
<circle cx="112.46" cy="622.68" r="1.95"/>
<circle cx="114.36" cy="621.73" r="1.95"/>
<circle cx="116.26" cy="620.79" r="1.95"/>
<circle cx="118.18" cy="619.83" r="1.95"/>
<circle cx="120.1" cy="618.87" r="1.95"/>
<circle cx="122.02" cy="617.9" r="1.95"/>
<circle cx="123.96" cy="616.93" r="1.95"/>
<circle cx="125.91" cy="615.96" r="1.95"/>
<circle cx="127.86" cy="614.97" r="1.95"/>
<circle cx="129.82" cy="613.98" r="1.95"/>
<circle cx="131.79" cy="612.96" r="1.95"/>
<circle cx="133.76" cy="611.93" r="1.95"/>
<circle cx="135.75" cy="610.89" r="1.95"/>
<circle cx="137.74" cy="609.83" r="1.95"/>
<circle cx="139.74" cy="608.76" r="1.95"/>
<circle cx="141.75" cy="607.68" r="1.95"/>
<circle cx="143.77" cy="606.58" r="1.95"/>
<circle cx="145.8" cy="605.47" r="1.95"/>
<circle cx="147.83" cy="604.34" r="1.95"/>
<circle cx="149.88" cy="603.19" r="1.95"/>
<circle cx="151.93" cy="602.02" r="1.95"/>
<circle cx="153.99" cy="600.83" r="1.95"/>
<circle cx="156.06" cy="599.63" r="1.95"/>
<circle cx="158.14" cy="598.41" r="1.95"/>
<circle cx="160.22" cy="597.18" r="1.95"/>
<circle cx="162.32" cy="595.92" r="1.95"/>
<circle cx="164.42" cy="594.64" r="1.95"/>
<circle cx="166.54" cy="593.32" r="1.95"/>
<circle cx="168.66" cy="591.96" r="1.95"/>
<circle cx="170.79" cy="590.56" r="1.95"/>
<circle cx="172.93" cy="589.11" r="1.95"/>
<circle cx="175.08" cy="587.58" r="1.95"/>
<circle cx="177.24" cy="585.98" r="1.95"/>
<circle cx="179.41" cy="584.33" r="1.95"/>
<circle cx="181.59" cy="582.65" r="1.95"/>
<circle cx="183.78" cy="580.96" r="1.95"/>
<circle cx="185.98" cy="579.28" r="1.95"/>
<circle cx="188.18" cy="577.61" r="1.95"/>
<circle cx="190.4" cy="575.94" r="1.95"/>
<circle cx="192.62" cy="574.24" r="1.95"/>
<circle cx="194.86" cy="572.49" r="1.95"/>
<circle cx="197.11" cy="570.66" r="1.95"/>
<circle cx="199.36" cy="568.77" r="1.95"/>
<circle cx="201.63" cy="566.83" r="1.95"/>
<circle cx="203.9" cy="564.83" r="1.95"/>
<circle cx="206.19" cy="562.77" r="1.95"/>
<circle cx="208.48" cy="560.67" r="1.95"/>
<circle cx="210.79" cy="558.51" r="1.95"/>
<circle cx="213.11" cy="556.24" r="1.95"/>
<circle cx="215.43" cy="553.81" r="1.95"/>
<circle cx="217.77" cy="551.2" r="1.95"/>
<circle cx="220.12" cy="548.33" r="1.95"/>
<circle cx="222.48" cy="545.08" r="1.95"/>
<circle cx="224.84" cy="541.27" r="1.95"/>
<circle cx="227.22" cy="537.18" r="1.95"/>
<circle cx="229.61" cy="532.78" r="1.95"/>
<circle cx="232.02" cy="528.15" r="1.95"/>
<circle cx="234.43" cy="523.7" r="1.95"/>
<circle cx="236.85" cy="520.24" r="1.95"/>
<circle cx="239.29" cy="518.96" r="1.95"/>
<circle cx="241.73" cy="519.12" r="1.95"/>
<circle cx="244.19" cy="520.99" r="1.95"/>
<circle cx="246.66" cy="523.05" r="1.95"/>
<circle cx="249.14" cy="525.15" r="1.95"/>
<circle cx="251.63" cy="526.54" r="1.95"/>
<circle cx="254.13" cy="527.59" r="1.95"/>
<circle cx="256.64" cy="528.25" r="1.95"/>
<circle cx="259.17" cy="528.33" r="1.95"/>
<circle cx="261.71" cy="528.33" r="1.95"/>
<circle cx="264.26" cy="528.32" r="1.95"/>
<circle cx="266.82" cy="528.29" r="1.95"/>
<circle cx="269.39" cy="528.1" r="1.95"/>
<circle cx="271.98" cy="527.77" r="1.95"/>
<circle cx="274.57" cy="527.35" r="1.95"/>
<circle cx="277.18" cy="526.88" r="1.95"/>
<circle cx="279.81" cy="526.42" r="1.95"/>
<circle cx="282.44" cy="525.97" r="1.95"/>
<circle cx="285.09" cy="525.49" r="1.95"/>
<circle cx="287.75" cy="524.95" r="1.95"/>
<circle cx="290.42" cy="524.39" r="1.95"/>
<circle cx="293.11" cy="523.79" r="1.95"/>
<circle cx="295.81" cy="523.17" r="1.95"/>
<circle cx="298.52" cy="522.52" r="1.95"/>
<circle cx="301.24" cy="521.84" r="1.95"/>
<circle cx="303.98" cy="521.11" r="1.95"/>
<circle cx="306.73" cy="520.35" r="1.95"/>
<circle cx="309.5" cy="519.58" r="1.95"/>
<circle cx="312.28" cy="518.78" r="1.95"/>
<circle cx="315.07" cy="517.97" r="1.95"/>
<circle cx="317.88" cy="517.12" r="1.95"/>
<circle cx="320.7" cy="516.25" r="1.95"/>
<circle cx="323.53" cy="515.36" r="1.95"/>
<circle cx="326.38" cy="514.45" r="1.95"/>
<circle cx="329.24" cy="513.54" r="1.95"/>
<circle cx="332.11" cy="512.61" r="1.95"/>
<circle cx="335" cy="511.67" r="1.95"/>
<circle cx="337.91" cy="510.71" r="1.95"/>
<circle cx="340.83" cy="509.74" r="1.95"/>
<circle cx="343.76" cy="508.76" r="1.95"/>
<circle cx="346.71" cy="507.76" r="1.95"/>
<circle cx="349.68" cy="506.77" r="1.95"/>
<circle cx="352.65" cy="505.77" r="1.95"/>
<circle cx="355.65" cy="504.76" r="1.95"/>
<circle cx="358.66" cy="503.71" r="1.95"/>
<circle cx="361.68" cy="502.59" r="1.95"/>
<circle cx="364.72" cy="501.41" r="1.95"/>
<circle cx="367.78" cy="500.18" r="1.95"/>
<circle cx="370.85" cy="498.93" r="1.95"/>
<circle cx="373.94" cy="497.65" r="1.95"/>
<circle cx="377.04" cy="496.32" r="1.95"/>
<circle cx="380.16" cy="494.99" r="1.95"/>
<circle cx="383.29" cy="493.71" r="1.95"/>
<circle cx="386.44" cy="492.47" r="1.95"/>
<circle cx="389.61" cy="491.25" r="1.95"/>
<circle cx="392.8" cy="490.06" r="1.95"/>
<circle cx="396" cy="488.9" r="1.95"/>
<circle cx="399.22" cy="487.77" r="1.95"/>
<circle cx="402.45" cy="486.66" r="1.95"/>
<circle cx="405.7" cy="485.56" r="1.95"/>
<circle cx="408.97" cy="484.46" r="1.95"/>
<circle cx="412.26" cy="483.36" r="1.95"/>
<circle cx="415.56" cy="482.27" r="1.95"/>
</g>
<path d="M200 848.1L200.36 848.08L200.72 848.05L201.08 848.02L201.44 847.99L201.8 847.96L202.16 847.93L202.52 847.89L202.88 847.85L203.24 847.81L203.6 847.77L203.96 847.73L204.32 847.69L204.68 847.64L205.04 847.6L205.39 847.55L205.75 847.5L206.11 847.45L206.47 847.39L206.83 847.34L207.19 847.28L207.55 847.22L207.91 847.15L208.27 847.08L208.63 847.01L208.99 846.94L209.35 846.86L209.71 846.77L210.07 846.69L210.43 846.59L210.79 846.49L211.15 846.38L211.51 846.27L211.87 846.15L212.23 846.02L212.59 845.89L212.95 845.76L213.31 845.62L213.67 845.47L214.03 845.32L214.39 845.17L214.75 845.01L215.11 844.85L215.46 844.69L215.82 844.51L216.18 844.33L216.54 844.14L216.9 843.94L217.26 843.73L217.62 843.51L217.98 843.28L218.34 843.04L218.7 842.78L219.06 842.51L219.42 842.22L219.78 841.9L220.14 841.55L220.5 841.17L220.86 840.77L221.22 840.34L221.58 839.9L221.94 839.44L222.3 838.97L222.66 838.49L223.02 837.98L223.38 837.45L223.74 836.88L224.1 836.28L224.46 835.64L224.82 834.96L225.18 834.24L225.54 833.44L225.89 832.57L226.25 831.64L226.61 830.64L226.97 829.58L227.33 828.41L227.69 827.11L228.05 825.72L228.41 824.3L228.77 822.91L229.13 821.56L229.49 820.23L229.85 818.88L230.21 817.48L230.57 816.01L230.93 814.56L231.29 813.08L231.65 811.48L232.01 809.62L232.37 807.33L232.73 804.22L233.09 800.81L233.45 797.63L233.81 794.48L234.17 791.24L234.53 787.81L234.89 784.18L235.25 780.52L235.61 776.98L235.96 773.57L236.32 770.21L236.68 766.87L237.04 763.54L237.4 760.24L237.76 756.95L238.12 753.69L238.48 750.53L238.84 747.47L239.2 744.32L239.56 740.87L239.92 736.75L240.28 732.66L240.64 729.43L241 726.66L241.36 724.12L241.72 721.66L242.08 719.13L242.44 716.59L242.8 714.06L243.16 711.58L243.52 709.19L243.88 706.91L244.24 704.79L244.6 702.77L244.96 700.82L245.32 698.95L245.68 697.19L246.04 695.54L246.39 694.02L246.75 692.6L247.11 691.23L247.47 689.93L247.83 688.73L248.19 687.63L248.55 686.66L248.91 685.81L249.27 685.04L249.63 684.33L249.99 683.67L250.35 683.05L250.71 682.46L251.07 681.9L251.43 681.35L251.79 680.81L252.15 680.28L252.51 679.74L252.87 679.23L253.23 678.73L253.59 678.24L253.95 677.77L254.31 677.31L254.67 676.85L255.03 676.4L255.39 675.95L255.75 675.5L256.11 675.05L256.46 674.6L256.82 674.14L257.18 673.69L257.54 673.24L257.9 672.79L258.26 672.35L258.62 671.91L258.98 671.47L259.34 671.02L259.7 670.58L260.06 670.13L260.42 669.68L260.78 669.22L261.14 668.75L261.5 668.27L261.86 667.78L262.22 667.29L262.58 666.8L262.94 666.29L263.3 665.79L263.66 665.29L264.02 664.78L264.38 664.28L264.74 663.78L265.1 663.28L265.46 662.79L265.82 662.29L266.18 661.8L266.54 661.3L266.89 660.8L267.25 660.29L267.61 659.79L267.97 659.29L268.33 658.79L268.69 658.29L269.05 657.78L269.41 657.29L269.77 656.79L270.13 656.29L270.49 655.8L270.85 655.31L271.21 654.83L271.57 654.35L271.93 653.87L272.29 653.4L272.65 652.93L273.01 652.47L273.37 652.02L273.73 651.57L274.09 651.14L274.45 650.7L274.81 650.28L275.17 649.85L275.53 649.43L275.89 649.02L276.25 648.6L276.61 648.19L276.96 647.79L277.32 647.39L277.68 646.99L278.04 646.59L278.4 646.2L278.76 645.81L279.12 645.42L279.48 645.04L279.84 644.66L280.2 644.28L280.56 643.9L280.92 643.53L281.28 643.16L281.64 642.79L282 642.42L282.36 642.05L282.72 641.69L283.08 641.32L283.44 640.96L283.8 640.6L284.16 640.24L284.52 639.89L284.88 639.54L285.24 639.19L285.6 638.84L285.96 638.5L286.32 638.16L286.68 637.82L287.04 637.48L287.39 637.15L287.75 636.81L288.11 636.48L288.47 636.15L288.83 635.82L289.19 635.5L289.55 635.17L289.91 634.84L290.27 634.52L290.63 634.19L290.99 633.87L291.35 633.54L291.71 633.22L292.07 632.9L292.43 632.57L292.79 632.25L293.15 631.92L293.51 631.59L293.87 631.26L294.23 630.94L294.59 630.61L294.95 630.28L295.31 629.96L295.67 629.63L296.03 629.31L296.39 628.98L296.75 628.66L297.11 628.33L297.46 628.01L297.82 627.69L298.18 627.36L298.54 627.04L298.9 626.72L299.26 626.39L299.62 626.07L299.98 625.75L300.34 625.43L300.7 625.11L301.06 624.79L301.42 624.47L301.78 624.15L302.14 623.84L302.5 623.52L302.86 623.2L303.22 622.88L303.58 622.57L303.94 622.25L304.3 621.94L304.66 621.62L305.02 621.31L305.38 620.99L305.74 620.68L306.1 620.37L306.46 620.06L306.82 619.75L307.18 619.44L307.54 619.13L307.89 618.82L308.25 618.51L308.61 618.21L308.97 617.9L309.33 617.6L309.69 617.29L310.05 616.99L310.41 616.68L310.77 616.38L311.13 616.08L311.49 615.77L311.85 615.47L312.21 615.17L312.57 614.86L312.93 614.56L313.29 614.26L313.65 613.96L314.01 613.65L314.37 613.35L314.73 613.05L315.09 612.74L315.45 612.44L315.81 612.13L316.17 611.83L316.53 611.52L316.89 611.22L317.25 610.91L317.61 610.6L317.96 610.29L318.32 609.98L318.68 609.67L319.04 609.36L319.4 609.05L319.76 608.74L320.12 608.43L320.48 608.12L320.84 607.81L321.2 607.5L321.56 607.2L321.92 606.89L322.28 606.58L322.64 606.27L323 605.97L323.36 605.66L323.72 605.36L324.08 605.06L324.44 604.76L324.8 604.46L325.16 604.16L325.52 603.86L325.88 603.57L326.24 603.27L326.6 602.98L326.96 602.69L327.32 602.41L327.68 602.13L328.04 601.85L328.39 601.57L328.75 601.29L329.11 601.01L329.47 600.74L329.83 600.47L330.19 600.2L330.55 599.93L330.91 599.66L331.27 599.39L331.63 599.12L331.99 598.86L332.35 598.59L332.71 598.32L333.07 598.05L333.43 597.78L333.79 597.51L334.15 597.24L334.51 596.97L334.87 596.7L335.23 596.42L335.59 596.15L335.95 595.87L336.31 595.59L336.67 595.3L337.03 595.02L337.39 594.73L337.75 594.44L338.11 594.15L338.46 593.86L338.82 593.56L339.18 593.26L339.54 592.96L339.9 592.67L340.26 592.36L340.62 592.06L340.98 591.76L341.34 591.45L341.7 591.15L342.06 590.84L342.42 590.53L342.78 590.22L343.14 589.91L343.5 589.6" stroke="#008000" stroke-width="1.9" fill="none" stroke-linejoin="round"/>
<g fill="#008000" stroke="#005a00" stroke-width="0.5">
<circle cx="232.02" cy="809.58" r="1.95"/>
<circle cx="234.43" cy="788.77" r="1.95"/>
<circle cx="236.85" cy="765.32" r="1.95"/>
<circle cx="239.29" cy="743.55" r="1.95"/>
<circle cx="241.73" cy="721.58" r="1.95"/>
<circle cx="244.19" cy="705.07" r="1.95"/>
<circle cx="246.66" cy="692.98" r="1.95"/>
<circle cx="249.14" cy="685.33" r="1.95"/>
<circle cx="251.63" cy="681.06" r="1.95"/>
<circle cx="254.13" cy="677.53" r="1.95"/>
<circle cx="256.64" cy="674.37" r="1.95"/>
<circle cx="259.17" cy="671.24" r="1.95"/>
<circle cx="261.71" cy="667.99" r="1.95"/>
<circle cx="264.26" cy="664.45" r="1.95"/>
<circle cx="266.82" cy="660.9" r="1.95"/>
<circle cx="269.39" cy="657.32" r="1.95"/>
<circle cx="271.98" cy="653.81" r="1.95"/>
<circle cx="274.57" cy="650.55" r="1.95"/>
<circle cx="277.18" cy="647.54" r="1.95"/>
<circle cx="279.81" cy="644.7" r="1.95"/>
<circle cx="282.44" cy="641.97" r="1.95"/>
<circle cx="285.09" cy="639.33" r="1.95"/>
<circle cx="287.75" cy="636.82" r="1.95"/>
<circle cx="290.42" cy="634.38" r="1.95"/>
<circle cx="293.11" cy="631.96" r="1.95"/>
<circle cx="295.81" cy="629.51" r="1.95"/>
<circle cx="298.52" cy="627.06" r="1.95"/>
<circle cx="301.24" cy="624.63" r="1.95"/>
<circle cx="303.98" cy="622.21" r="1.95"/>
<circle cx="306.73" cy="619.82" r="1.95"/>
<circle cx="309.5" cy="617.46" r="1.95"/>
<circle cx="312.28" cy="615.11" r="1.95"/>
<circle cx="315.07" cy="612.76" r="1.95"/>
<circle cx="317.88" cy="610.37" r="1.95"/>
<circle cx="320.7" cy="607.94" r="1.95"/>
<circle cx="323.53" cy="605.52" r="1.95"/>
<circle cx="326.38" cy="603.16" r="1.95"/>
<circle cx="329.24" cy="600.92" r="1.95"/>
<circle cx="332.11" cy="598.76" r="1.95"/>
<circle cx="335" cy="596.59" r="1.95"/>
<circle cx="337.91" cy="594.31" r="1.95"/>
<circle cx="340.83" cy="591.89" r="1.95"/>
<circle cx="343.5" cy="589.6" r="1.95"/>
</g>
<path d="M238.9 487.8V571.5M236.6 660V848.3" stroke="#000" stroke-width="1.5"/>
<path d="M183.5 568.4L97.4 568.4" stroke="#000" stroke-width="1.6" fill="none"/>
<path d="M86.9 568.4L101.4 563.2L97.4 568.4L101.4 573.6Z" fill="#000"/>
<path d="M284 662.4L422.3 662.4" stroke="#000" stroke-width="1.6" fill="none"/>
<path d="M432.8 662.4L418.3 667.6L422.3 662.4L418.3 657.2Z" fill="#000"/>
<path d="M214.2 683.7L229.96 707.27" stroke="#000" stroke-width="2.0" fill="none"/>
<path d="M235.8 716L223.42 706.84L229.96 707.27L232.06 701.06Z" fill="#000"/>
<text x="205" y="593.7" style="font-size:16px">1.4187 eV</text>
<text x="135" y="681.5" style="font-size:16px">1.4157 eV</text>
<text x="91.3" y="504" style="font-size:18.5px">(b)</text>
<text x="92" y="527.3">GaAs</text>
<path d="M324.5 779.3H353" stroke="#ff0000" stroke-width="1.8"/>
<circle cx="338.75" cy="779.3" r="4.5" fill="#ff0000" stroke="#c00000" stroke-width="0.8"/>
<text x="360.6" y="786.2" fill="#e81c24" style="font-size:17px">Sample A</text>
<path d="M324.5 800.1H353" stroke="#0000ff" stroke-width="1.8"/>
<circle cx="338.75" cy="800.1" r="4.5" fill="#0000ff" stroke="#0000a0" stroke-width="0.8"/>
<text x="360.6" y="807" fill="#1c1cb4" style="font-size:17px">Sample B</text>
<path d="M324.5 820.9H353" stroke="#008000" stroke-width="1.8"/>
<circle cx="338.75" cy="820.9" r="4.5" fill="#008000" stroke="#005a00" stroke-width="0.8"/>
<text x="360.6" y="827.8" fill="#1a801a" style="font-size:17px">Sample C</text>
<rect x="75" y="472.3" width="375.8" height="376" fill="none" stroke="#000" stroke-width="1.8"/>
<path d="M75 848.3V841.8M90.03 848.3V844.7M105.06 848.3V844.7M120.1 848.3V844.7M135.13 848.3V844.7M150.16 848.3V841.8M165.19 848.3V844.7M180.22 848.3V844.7M195.26 848.3V844.7M210.29 848.3V844.7M225.32 848.3V841.8M240.35 848.3V844.7M255.38 848.3V844.7M270.42 848.3V844.7M285.45 848.3V844.7M300.48 848.3V841.8M315.51 848.3V844.7M330.54 848.3V844.7M345.58 848.3V844.7M360.61 848.3V844.7M375.64 848.3V841.8M390.67 848.3V844.7M405.7 848.3V844.7M420.74 848.3V844.7M435.77 848.3V844.7M450.8 848.3V841.8" stroke="#000" stroke-width="1.5" fill="none"/>
<path d="M75 472.3V478.8M90.03 472.3V475.9M105.06 472.3V475.9M120.1 472.3V475.9M135.13 472.3V475.9M150.16 472.3V478.8M165.19 472.3V475.9M180.22 472.3V475.9M195.26 472.3V475.9M210.29 472.3V475.9M225.32 472.3V478.8M240.35 472.3V475.9M255.38 472.3V475.9M270.42 472.3V475.9M285.45 472.3V475.9M300.48 472.3V478.8M315.51 472.3V475.9M330.54 472.3V475.9M345.58 472.3V475.9M360.61 472.3V475.9M375.64 472.3V478.8M390.67 472.3V475.9M405.7 472.3V475.9M420.74 472.3V475.9M435.77 472.3V475.9M450.8 472.3V478.8" stroke="#000" stroke-width="1.5" fill="none"/>
<path d="M75 848.3H78.6M75 837.86H78.6M75 827.41H78.6M75 816.97H81.5M75 806.52H78.6M75 796.08H78.6M75 785.63H78.6M75 775.19H78.6M75 764.74H81.5M75 754.3H78.6M75 743.86H78.6M75 733.41H78.6M75 722.97H78.6M75 712.52H81.5M75 702.08H78.6M75 691.63H78.6M75 681.19H78.6M75 670.74H78.6M75 660.3H81.5M75 649.86H78.6M75 639.41H78.6M75 628.97H78.6M75 618.52H78.6M75 608.08H81.5M75 597.63H78.6M75 587.19H78.6M75 576.74H78.6M75 566.3H78.6M75 555.86H81.5M75 545.41H78.6M75 534.97H78.6M75 524.52H78.6M75 514.08H78.6M75 503.63H81.5M75 493.19H78.6M75 482.74H78.6M75 472.3H78.6" stroke="#000" stroke-width="1.5" fill="none"/>
<path d="M450.8 848.3H444.3M450.8 829.5H447.2M450.8 810.7H447.2M450.8 791.9H447.2M450.8 773.1H444.3M450.8 754.3H447.2M450.8 735.5H447.2M450.8 716.7H447.2M450.8 697.9H444.3M450.8 679.1H447.2M450.8 660.3H447.2M450.8 641.5H447.2M450.8 622.7H444.3M450.8 603.9H447.2M450.8 585.1H447.2M450.8 566.3H447.2M450.8 547.5H444.3M450.8 528.7H447.2M450.8 509.9H447.2M450.8 491.1H447.2M450.8 472.3H444.3" stroke="#000" stroke-width="1.5" fill="none"/>
<text x="75" y="874.6" text-anchor="middle">1.2</text>
<text x="150.16" y="874.6" text-anchor="middle">1.3</text>
<text x="225.32" y="874.6" text-anchor="middle">1.4</text>
<text x="300.48" y="874.6" text-anchor="middle">1.5</text>
<text x="375.64" y="874.6" text-anchor="middle">1.6</text>
<text x="450.8" y="874.6" text-anchor="middle">1.7</text>
<text x="64.8" y="822.42" text-anchor="end">10.5</text>
<text x="64.8" y="770.19" text-anchor="end">11.0</text>
<text x="64.8" y="717.97" text-anchor="end">11.5</text>
<text x="64.8" y="665.75" text-anchor="end">12.0</text>
<text x="64.8" y="613.53" text-anchor="end">12.5</text>
<text x="64.8" y="561.31" text-anchor="end">13.0</text>
<text x="64.8" y="509.08" text-anchor="end">13.5</text>
<text x="460.8" y="853.55">0.0</text>
<text x="460.8" y="778.35">0.2</text>
<text x="460.8" y="703.15">0.4</text>
<text x="460.8" y="627.95">0.6</text>
<text x="460.8" y="552.75">0.8</text>
<text x="460.8" y="477.55">1.0</text>
<text x="223.6" y="894.4" style="font-size:18.7px">Energy (eV)</text>
<text transform="translate(14.5 772) rotate(-90)" style="font-size:18.7px">Real Dielectric Function, <tspan font-family="Liberation Serif, serif">&#949;</tspan><tspan font-size="13" dy="6">1</tspan></text>
<text transform="translate(511.8 794) rotate(-90)" style="font-size:18.7px">Imaginary Dielectric Function, <tspan font-family="Liberation Serif, serif">&#949;</tspan><tspan font-size="13" dy="6">2</tspan></text>
</g></svg>
</body></html>
